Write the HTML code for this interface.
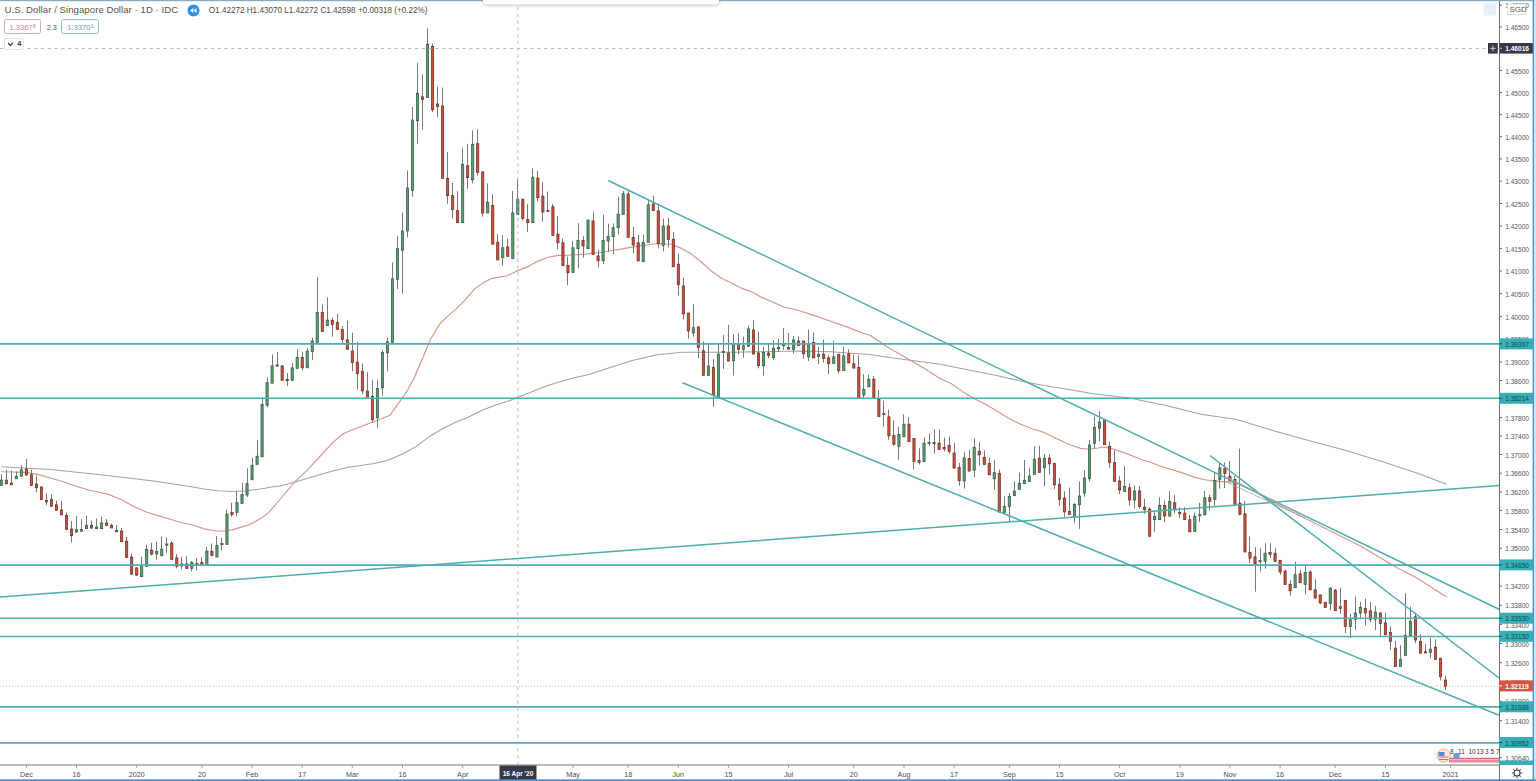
<!DOCTYPE html>
<html><head><meta charset="utf-8"><style>
html,body{margin:0;padding:0;background:#fff;width:1536px;height:781px;overflow:hidden}
svg.main{position:absolute;left:0;top:0;display:block}
.pl{font-family:"Liberation Sans",sans-serif;font-size:6.6px;fill:#555}
.tlb{font-family:"Liberation Sans",sans-serif;font-size:7.2px;fill:#4c4c4c}
.ev{font-family:"Liberation Sans",sans-serif;font-size:6.5px;fill:#333}
.title{position:absolute;left:4.5px;top:3.5px;font:9.6px "Liberation Sans",sans-serif;color:#555;white-space:nowrap;letter-spacing:0.05px}
.rw{position:absolute;left:187px;top:3.5px;width:13px;height:13px}
.rw svg{display:block}
.ohlc{position:absolute;left:208.8px;top:6.1px;font:8.13px "Liberation Sans",sans-serif;color:#4a4a4a;white-space:nowrap}
.bx{position:absolute;box-sizing:border-box;background:#fff;height:15.2px;border-radius:2.5px;font:7.6px "Liberation Sans",sans-serif;line-height:13.6px;text-align:center;white-space:nowrap}
.sp{font-size:5.2px;vertical-align:2.2px;margin-left:0.3px}
.b1{left:4.1px;top:19.2px;width:37.3px;border:1px solid #dcaaaa;color:#d7808c}
.b2{left:61.3px;top:19.2px;width:38.2px;border:1px solid #96b9c4;color:#5d9cc4}
.n23{position:absolute;left:46.7px;top:22.8px;font:7.4px "Liberation Sans",sans-serif;color:#555}
.b3{left:4.4px;top:38.3px;width:19.6px;height:12.2px;line-height:10.5px;border:1px solid #e2e2e2;color:#333;font-size:7.4px;font-weight:bold}
.b3 svg{vertical-align:middle;margin-right:1px}
</style></head><body>
<svg class="main" width="1536" height="781" viewBox="0 0 1536 781">
<rect width="1536" height="781" fill="#fff"/>
<polyline points="1.3,466.8 51.2,469.4 102.4,475.0 153.6,481.1 190.0,486.6 204.1,489.0 218.2,490.8 232.3,491.4 246.3,490.8 260.4,489.0 274.5,486.5 280.0,486.0 295.2,482.0 306.9,478.4 320.3,474.4 333.8,470.8 347.2,467.6 360.6,465.4 374.1,463.6 387.5,460.5 403.0,453.8 416.0,446.6 429.0,436.8 442.1,429.0 455.1,422.5 468.1,417.3 481.1,410.8 494.2,405.6 507.2,401.4 520.2,396.5 533.2,391.3 546.3,386.0 559.3,381.9 572.3,378.2 590.0,374.3 605.6,369.0 631.2,360.8 656.8,354.7 682.5,352.3 708.0,352.2 733.7,352.2 770.0,351.5 800.7,351.0 831.4,351.8 846.8,353.0 870.0,354.5 887.4,357.2 938.6,364.0 968.8,370.0 997.6,375.8 1020.7,381.0 1043.7,385.6 1060.0,387.9 1093.4,393.8 1129.3,398.1 1165.1,405.3 1201.0,414.3 1236.8,419.6 1272.7,430.4 1308.6,440.4 1344.4,450.1 1380.3,460.9 1416.1,472.7 1446.6,484.2" fill="none" stroke="#a5a1a1" stroke-width="1.05" stroke-linejoin="round"/>
<polyline points="1.3,471.8 12.8,472.0 25.6,472.4 38.4,474.6 51.2,478.2 64.0,482.0 76.8,486.5 89.6,490.3 95.0,491.5 107.8,494.1 120.6,499.2 133.4,506.2 146.2,512.0 159.0,515.9 171.8,519.7 184.6,523.5 190.0,524.2 204.1,528.9 218.2,531.3 225.2,530.8 232.3,529.9 246.3,525.6 253.4,522.8 260.4,518.6 267.5,513.7 274.5,505.9 281.5,497.5 294.3,482.4 306.9,470.3 320.3,456.0 333.8,441.6 342.7,434.0 351.7,430.0 365.0,425.0 378.9,419.7 390.0,415.3 406.9,391.3 413.4,379.5 421.9,360.0 430.2,340.0 439.2,324.5 445.6,318.1 455.8,309.1 464.8,300.2 475.0,288.6 484.0,282.2 491.7,278.4 499.4,277.1 507.0,275.8 516.0,271.4 527.5,266.9 537.8,261.1 548.0,257.3 558.2,255.4 567.2,255.2 576.0,254.7 584.8,254.1 593.8,253.2 602.7,252.3 611.7,250.5 620.0,249.4 630.2,247.4 640.5,245.7 650.7,244.3 661.0,243.7 671.2,244.3 681.5,248.4 690.7,253.6 701.0,261.8 711.2,271.0 721.5,278.2 731.7,283.3 742.0,288.4 752.2,292.0 760.0,296.6 785.0,307.5 797.6,310.0 816.1,316.1 831.4,321.5 846.8,326.9 862.2,333.0 870.0,335.3 887.4,347.0 909.9,360.0 926.8,370.0 940.0,378.6 951.5,383.8 963.0,391.9 974.6,398.8 986.1,404.6 997.6,411.5 1009.2,418.4 1020.7,424.2 1032.2,428.8 1043.7,432.2 1056.1,438.4 1071.4,445.3 1080.7,448.4 1089.0,449.3 1097.9,448.0 1103.3,447.0 1112.3,448.7 1124.8,452.9 1133.8,456.5 1142.7,460.0 1151.7,462.7 1160.6,466.3 1169.6,469.0 1177.9,471.4 1195.8,477.6 1204.8,479.8 1213.8,480.9 1222.7,481.6 1236.8,482.6 1254.8,491.3 1272.7,502.1 1290.6,511.1 1308.6,520.0 1326.5,529.0 1344.4,538.0 1362.3,546.9 1380.3,557.7 1398.2,568.4 1416.1,577.4 1446.6,597.1" fill="none" stroke="#d6968a" stroke-width="1.15" stroke-linejoin="round"/>
<line x1="1.50" y1="474.3" x2="1.50" y2="485.6" stroke="#78787b" stroke-width="1"/>
<line x1="6.50" y1="469.8" x2="6.50" y2="483.9" stroke="#78787b" stroke-width="1"/>
<line x1="11.50" y1="470.5" x2="11.50" y2="484.8" stroke="#78787b" stroke-width="1"/>
<line x1="16.50" y1="471.5" x2="16.50" y2="478.8" stroke="#78787b" stroke-width="1"/>
<line x1="21.50" y1="465.1" x2="21.50" y2="476.2" stroke="#78787b" stroke-width="1"/>
<line x1="26.50" y1="459.0" x2="26.50" y2="475.6" stroke="#78787b" stroke-width="1"/>
<line x1="31.50" y1="469.8" x2="31.50" y2="485.6" stroke="#78787b" stroke-width="1"/>
<line x1="36.50" y1="475.6" x2="36.50" y2="492.3" stroke="#78787b" stroke-width="1"/>
<line x1="41.50" y1="486.5" x2="41.50" y2="499.7" stroke="#78787b" stroke-width="1"/>
<line x1="46.50" y1="493.5" x2="46.50" y2="505.0" stroke="#78787b" stroke-width="1"/>
<line x1="51.50" y1="494.2" x2="51.50" y2="506.3" stroke="#78787b" stroke-width="1"/>
<line x1="56.50" y1="500.6" x2="56.50" y2="510.4" stroke="#78787b" stroke-width="1"/>
<line x1="61.50" y1="501.0" x2="61.50" y2="514.9" stroke="#78787b" stroke-width="1"/>
<line x1="66.50" y1="512.5" x2="66.50" y2="529.6" stroke="#78787b" stroke-width="1"/>
<line x1="71.50" y1="521.0" x2="71.50" y2="542.4" stroke="#78787b" stroke-width="1"/>
<line x1="76.50" y1="516.0" x2="76.50" y2="533.0" stroke="#78787b" stroke-width="1"/>
<line x1="81.50" y1="519.0" x2="81.50" y2="531.3" stroke="#78787b" stroke-width="1"/>
<line x1="86.50" y1="515.6" x2="86.50" y2="528.7" stroke="#78787b" stroke-width="1"/>
<line x1="91.50" y1="520.4" x2="91.50" y2="528.1" stroke="#78787b" stroke-width="1"/>
<line x1="96.50" y1="518.5" x2="96.50" y2="528.7" stroke="#78787b" stroke-width="1"/>
<line x1="101.50" y1="516.5" x2="101.50" y2="528.7" stroke="#78787b" stroke-width="1"/>
<line x1="106.50" y1="519.0" x2="106.50" y2="525.5" stroke="#78787b" stroke-width="1"/>
<line x1="111.50" y1="523.5" x2="111.50" y2="528.0" stroke="#78787b" stroke-width="1"/>
<line x1="116.50" y1="524.8" x2="116.50" y2="531.5" stroke="#78787b" stroke-width="1"/>
<line x1="121.50" y1="528.0" x2="121.50" y2="541.7" stroke="#78787b" stroke-width="1"/>
<line x1="126.50" y1="537.0" x2="126.50" y2="557.5" stroke="#78787b" stroke-width="1"/>
<line x1="131.50" y1="553.6" x2="131.50" y2="574.8" stroke="#78787b" stroke-width="1"/>
<line x1="136.50" y1="567.0" x2="136.50" y2="576.0" stroke="#78787b" stroke-width="1"/>
<line x1="141.50" y1="556.6" x2="141.50" y2="576.7" stroke="#78787b" stroke-width="1"/>
<line x1="146.50" y1="544.7" x2="146.50" y2="566.4" stroke="#78787b" stroke-width="1"/>
<line x1="151.50" y1="542.7" x2="151.50" y2="555.5" stroke="#78787b" stroke-width="1"/>
<line x1="156.50" y1="541.7" x2="156.50" y2="559.4" stroke="#78787b" stroke-width="1"/>
<line x1="161.50" y1="536.3" x2="161.50" y2="555.8" stroke="#78787b" stroke-width="1"/>
<line x1="166.50" y1="537.4" x2="166.50" y2="553.0" stroke="#78787b" stroke-width="1"/>
<line x1="171.50" y1="541.2" x2="171.50" y2="559.6" stroke="#78787b" stroke-width="1"/>
<line x1="176.50" y1="554.0" x2="176.50" y2="568.3" stroke="#78787b" stroke-width="1"/>
<line x1="181.50" y1="556.6" x2="181.50" y2="569.4" stroke="#78787b" stroke-width="1"/>
<line x1="186.50" y1="556.2" x2="186.50" y2="568.6" stroke="#78787b" stroke-width="1"/>
<line x1="191.50" y1="561.3" x2="191.50" y2="571.4" stroke="#78787b" stroke-width="1"/>
<line x1="196.50" y1="558.0" x2="196.50" y2="570.7" stroke="#78787b" stroke-width="1"/>
<line x1="201.50" y1="557.3" x2="201.50" y2="565.5" stroke="#78787b" stroke-width="1"/>
<line x1="206.50" y1="546.8" x2="206.50" y2="565.5" stroke="#78787b" stroke-width="1"/>
<line x1="211.50" y1="543.5" x2="211.50" y2="555.6" stroke="#78787b" stroke-width="1"/>
<line x1="216.50" y1="536.2" x2="216.50" y2="557.0" stroke="#78787b" stroke-width="1"/>
<line x1="221.50" y1="537.9" x2="221.50" y2="550.6" stroke="#78787b" stroke-width="1"/>
<line x1="226.50" y1="509.7" x2="226.50" y2="544.4" stroke="#78787b" stroke-width="1"/>
<line x1="231.50" y1="502.7" x2="231.50" y2="516.5" stroke="#78787b" stroke-width="1"/>
<line x1="236.50" y1="491.0" x2="236.50" y2="516.5" stroke="#78787b" stroke-width="1"/>
<line x1="242.50" y1="482.7" x2="242.50" y2="503.5" stroke="#78787b" stroke-width="1"/>
<line x1="247.50" y1="468.3" x2="247.50" y2="497.0" stroke="#78787b" stroke-width="1"/>
<line x1="252.50" y1="457.5" x2="252.50" y2="479.8" stroke="#78787b" stroke-width="1"/>
<line x1="257.50" y1="440.2" x2="257.50" y2="464.4" stroke="#78787b" stroke-width="1"/>
<line x1="262.50" y1="397.6" x2="262.50" y2="456.8" stroke="#78787b" stroke-width="1"/>
<line x1="267.50" y1="377.4" x2="267.50" y2="407.2" stroke="#78787b" stroke-width="1"/>
<line x1="272.50" y1="354.4" x2="272.50" y2="383.2" stroke="#78787b" stroke-width="1"/>
<line x1="277.50" y1="351.9" x2="277.50" y2="366.9" stroke="#78787b" stroke-width="1"/>
<line x1="282.50" y1="365.0" x2="282.50" y2="380.3" stroke="#78787b" stroke-width="1"/>
<line x1="287.50" y1="373.0" x2="287.50" y2="386.1" stroke="#78787b" stroke-width="1"/>
<line x1="292.50" y1="362.7" x2="292.50" y2="380.3" stroke="#78787b" stroke-width="1"/>
<line x1="297.50" y1="349.2" x2="297.50" y2="368.4" stroke="#78787b" stroke-width="1"/>
<line x1="302.50" y1="351.9" x2="302.50" y2="370.3" stroke="#78787b" stroke-width="1"/>
<line x1="307.50" y1="348.0" x2="307.50" y2="367.8" stroke="#78787b" stroke-width="1"/>
<line x1="312.50" y1="337.6" x2="312.50" y2="360.2" stroke="#78787b" stroke-width="1"/>
<line x1="317.50" y1="277.0" x2="317.50" y2="342.4" stroke="#78787b" stroke-width="1"/>
<line x1="322.50" y1="304.6" x2="322.50" y2="331.5" stroke="#78787b" stroke-width="1"/>
<line x1="327.50" y1="297.3" x2="327.50" y2="325.7" stroke="#78787b" stroke-width="1"/>
<line x1="332.50" y1="317.5" x2="332.50" y2="336.7" stroke="#78787b" stroke-width="1"/>
<line x1="337.50" y1="313.6" x2="337.50" y2="329.5" stroke="#78787b" stroke-width="1"/>
<line x1="342.50" y1="326.0" x2="342.50" y2="344.3" stroke="#78787b" stroke-width="1"/>
<line x1="347.50" y1="320.7" x2="347.50" y2="349.5" stroke="#78787b" stroke-width="1"/>
<line x1="352.50" y1="332.8" x2="352.50" y2="371.2" stroke="#78787b" stroke-width="1"/>
<line x1="357.50" y1="341.8" x2="357.50" y2="389.5" stroke="#78787b" stroke-width="1"/>
<line x1="362.50" y1="363.5" x2="362.50" y2="394.3" stroke="#78787b" stroke-width="1"/>
<line x1="367.50" y1="372.2" x2="367.50" y2="397.2" stroke="#78787b" stroke-width="1"/>
<line x1="372.50" y1="379.9" x2="372.50" y2="423.0" stroke="#78787b" stroke-width="1"/>
<line x1="377.50" y1="379.9" x2="377.50" y2="427.9" stroke="#78787b" stroke-width="1"/>
<line x1="382.50" y1="350.0" x2="382.50" y2="395.2" stroke="#78787b" stroke-width="1"/>
<line x1="387.50" y1="337.6" x2="387.50" y2="371.2" stroke="#78787b" stroke-width="1"/>
<line x1="392.50" y1="262.5" x2="392.50" y2="342.4" stroke="#78787b" stroke-width="1"/>
<line x1="397.50" y1="236.0" x2="397.50" y2="289.0" stroke="#78787b" stroke-width="1"/>
<line x1="402.50" y1="212.5" x2="402.50" y2="293.6" stroke="#78787b" stroke-width="1"/>
<line x1="407.50" y1="170.4" x2="407.50" y2="237.2" stroke="#78787b" stroke-width="1"/>
<line x1="412.50" y1="107.0" x2="412.50" y2="196.9" stroke="#78787b" stroke-width="1"/>
<line x1="417.50" y1="63.0" x2="417.50" y2="144.0" stroke="#78787b" stroke-width="1"/>
<line x1="422.50" y1="74.3" x2="422.50" y2="129.6" stroke="#78787b" stroke-width="1"/>
<line x1="427.50" y1="28.6" x2="427.50" y2="97.5" stroke="#78787b" stroke-width="1"/>
<line x1="432.50" y1="43.6" x2="432.50" y2="112.2" stroke="#78787b" stroke-width="1"/>
<line x1="437.50" y1="86.6" x2="437.50" y2="117.3" stroke="#78787b" stroke-width="1"/>
<line x1="442.50" y1="87.6" x2="442.50" y2="178.3" stroke="#78787b" stroke-width="1"/>
<line x1="447.50" y1="152.2" x2="447.50" y2="203.8" stroke="#78787b" stroke-width="1"/>
<line x1="452.50" y1="183.0" x2="452.50" y2="218.8" stroke="#78787b" stroke-width="1"/>
<line x1="457.50" y1="191.1" x2="457.50" y2="222.7" stroke="#78787b" stroke-width="1"/>
<line x1="462.50" y1="147.9" x2="462.50" y2="222.7" stroke="#78787b" stroke-width="1"/>
<line x1="467.50" y1="143.8" x2="467.50" y2="188.9" stroke="#78787b" stroke-width="1"/>
<line x1="472.50" y1="130.5" x2="472.50" y2="183.4" stroke="#78787b" stroke-width="1"/>
<line x1="477.50" y1="129.5" x2="477.50" y2="175.6" stroke="#78787b" stroke-width="1"/>
<line x1="482.50" y1="171.9" x2="482.50" y2="216.6" stroke="#78787b" stroke-width="1"/>
<line x1="487.50" y1="183.4" x2="487.50" y2="212.9" stroke="#78787b" stroke-width="1"/>
<line x1="492.50" y1="194.4" x2="492.50" y2="244.2" stroke="#78787b" stroke-width="1"/>
<line x1="497.50" y1="234.0" x2="497.50" y2="260.0" stroke="#78787b" stroke-width="1"/>
<line x1="502.50" y1="235.4" x2="502.50" y2="265.7" stroke="#78787b" stroke-width="1"/>
<line x1="507.50" y1="238.7" x2="507.50" y2="256.5" stroke="#78787b" stroke-width="1"/>
<line x1="512.50" y1="191.0" x2="512.50" y2="258.6" stroke="#78787b" stroke-width="1"/>
<line x1="517.50" y1="179.7" x2="517.50" y2="214.5" stroke="#78787b" stroke-width="1"/>
<line x1="522.50" y1="199.1" x2="522.50" y2="220.7" stroke="#78787b" stroke-width="1"/>
<line x1="527.50" y1="204.3" x2="527.50" y2="231.9" stroke="#78787b" stroke-width="1"/>
<line x1="532.50" y1="168.4" x2="532.50" y2="222.7" stroke="#78787b" stroke-width="1"/>
<line x1="537.50" y1="171.0" x2="537.50" y2="201.2" stroke="#78787b" stroke-width="1"/>
<line x1="542.50" y1="182.1" x2="542.50" y2="221.7" stroke="#78787b" stroke-width="1"/>
<line x1="547.50" y1="191.6" x2="547.50" y2="211.6" stroke="#78787b" stroke-width="1"/>
<line x1="552.50" y1="203.9" x2="552.50" y2="235.5" stroke="#78787b" stroke-width="1"/>
<line x1="557.50" y1="216.0" x2="557.50" y2="249.3" stroke="#78787b" stroke-width="1"/>
<line x1="562.50" y1="238.5" x2="562.50" y2="265.7" stroke="#78787b" stroke-width="1"/>
<line x1="567.50" y1="256.8" x2="567.50" y2="285.1" stroke="#78787b" stroke-width="1"/>
<line x1="572.50" y1="241.0" x2="572.50" y2="272.5" stroke="#78787b" stroke-width="1"/>
<line x1="578.50" y1="223.1" x2="578.50" y2="268.4" stroke="#78787b" stroke-width="1"/>
<line x1="583.50" y1="236.2" x2="583.50" y2="257.7" stroke="#78787b" stroke-width="1"/>
<line x1="588.50" y1="220.0" x2="588.50" y2="248.7" stroke="#78787b" stroke-width="1"/>
<line x1="593.50" y1="212.0" x2="593.50" y2="254.6" stroke="#78787b" stroke-width="1"/>
<line x1="598.50" y1="249.6" x2="598.50" y2="267.2" stroke="#78787b" stroke-width="1"/>
<line x1="603.50" y1="214.7" x2="603.50" y2="264.0" stroke="#78787b" stroke-width="1"/>
<line x1="608.50" y1="223.6" x2="608.50" y2="252.3" stroke="#78787b" stroke-width="1"/>
<line x1="613.50" y1="223.6" x2="613.50" y2="254.1" stroke="#78787b" stroke-width="1"/>
<line x1="618.50" y1="196.7" x2="618.50" y2="234.4" stroke="#78787b" stroke-width="1"/>
<line x1="623.50" y1="190.8" x2="623.50" y2="214.5" stroke="#78787b" stroke-width="1"/>
<line x1="628.50" y1="190.8" x2="628.50" y2="237.3" stroke="#78787b" stroke-width="1"/>
<line x1="633.50" y1="226.8" x2="633.50" y2="253.3" stroke="#78787b" stroke-width="1"/>
<line x1="638.50" y1="234.8" x2="638.50" y2="261.0" stroke="#78787b" stroke-width="1"/>
<line x1="643.50" y1="234.7" x2="643.50" y2="261.7" stroke="#78787b" stroke-width="1"/>
<line x1="648.50" y1="200.2" x2="648.50" y2="242.3" stroke="#78787b" stroke-width="1"/>
<line x1="653.50" y1="195.7" x2="653.50" y2="210.5" stroke="#78787b" stroke-width="1"/>
<line x1="658.50" y1="203.9" x2="658.50" y2="248.4" stroke="#78787b" stroke-width="1"/>
<line x1="663.50" y1="218.7" x2="663.50" y2="251.5" stroke="#78787b" stroke-width="1"/>
<line x1="668.50" y1="217.7" x2="668.50" y2="247.4" stroke="#78787b" stroke-width="1"/>
<line x1="673.50" y1="232.0" x2="673.50" y2="266.8" stroke="#78787b" stroke-width="1"/>
<line x1="678.50" y1="253.5" x2="678.50" y2="295.5" stroke="#78787b" stroke-width="1"/>
<line x1="683.50" y1="277.7" x2="683.50" y2="319.5" stroke="#78787b" stroke-width="1"/>
<line x1="688.50" y1="313.0" x2="688.50" y2="338.6" stroke="#78787b" stroke-width="1"/>
<line x1="693.50" y1="304.3" x2="693.50" y2="336.7" stroke="#78787b" stroke-width="1"/>
<line x1="698.50" y1="326.9" x2="698.50" y2="358.4" stroke="#78787b" stroke-width="1"/>
<line x1="703.50" y1="341.2" x2="703.50" y2="375.6" stroke="#78787b" stroke-width="1"/>
<line x1="708.50" y1="343.8" x2="708.50" y2="375.6" stroke="#78787b" stroke-width="1"/>
<line x1="713.50" y1="359.1" x2="713.50" y2="406.8" stroke="#78787b" stroke-width="1"/>
<line x1="718.50" y1="343.8" x2="718.50" y2="399.0" stroke="#78787b" stroke-width="1"/>
<line x1="723.50" y1="335.0" x2="723.50" y2="369.1" stroke="#78787b" stroke-width="1"/>
<line x1="728.50" y1="324.9" x2="728.50" y2="361.1" stroke="#78787b" stroke-width="1"/>
<line x1="733.50" y1="334.1" x2="733.50" y2="375.6" stroke="#78787b" stroke-width="1"/>
<line x1="738.50" y1="333.0" x2="738.50" y2="354.5" stroke="#78787b" stroke-width="1"/>
<line x1="743.50" y1="336.6" x2="743.50" y2="357.6" stroke="#78787b" stroke-width="1"/>
<line x1="748.50" y1="325.3" x2="748.50" y2="346.4" stroke="#78787b" stroke-width="1"/>
<line x1="753.50" y1="320.0" x2="753.50" y2="354.1" stroke="#78787b" stroke-width="1"/>
<line x1="758.50" y1="332.0" x2="758.50" y2="368.4" stroke="#78787b" stroke-width="1"/>
<line x1="763.50" y1="346.9" x2="763.50" y2="375.6" stroke="#78787b" stroke-width="1"/>
<line x1="768.50" y1="343.8" x2="768.50" y2="358.1" stroke="#78787b" stroke-width="1"/>
<line x1="773.50" y1="340.2" x2="773.50" y2="360.2" stroke="#78787b" stroke-width="1"/>
<line x1="778.50" y1="338.9" x2="778.50" y2="352.0" stroke="#78787b" stroke-width="1"/>
<line x1="783.50" y1="328.0" x2="783.50" y2="350.0" stroke="#78787b" stroke-width="1"/>
<line x1="788.50" y1="333.0" x2="788.50" y2="349.2" stroke="#78787b" stroke-width="1"/>
<line x1="793.50" y1="336.1" x2="793.50" y2="353.3" stroke="#78787b" stroke-width="1"/>
<line x1="798.50" y1="336.4" x2="798.50" y2="345.6" stroke="#78787b" stroke-width="1"/>
<line x1="803.50" y1="341.0" x2="803.50" y2="358.8" stroke="#78787b" stroke-width="1"/>
<line x1="808.50" y1="329.7" x2="808.50" y2="361.0" stroke="#78787b" stroke-width="1"/>
<line x1="813.50" y1="332.3" x2="813.50" y2="357.9" stroke="#78787b" stroke-width="1"/>
<line x1="818.50" y1="346.9" x2="818.50" y2="364.1" stroke="#78787b" stroke-width="1"/>
<line x1="823.50" y1="339.5" x2="823.50" y2="362.5" stroke="#78787b" stroke-width="1"/>
<line x1="828.50" y1="355.3" x2="828.50" y2="374.2" stroke="#78787b" stroke-width="1"/>
<line x1="833.50" y1="340.7" x2="833.50" y2="363.5" stroke="#78787b" stroke-width="1"/>
<line x1="838.50" y1="354.2" x2="838.50" y2="373.3" stroke="#78787b" stroke-width="1"/>
<line x1="843.50" y1="346.6" x2="843.50" y2="370.7" stroke="#78787b" stroke-width="1"/>
<line x1="848.50" y1="349.2" x2="848.50" y2="363.0" stroke="#78787b" stroke-width="1"/>
<line x1="853.50" y1="354.5" x2="853.50" y2="368.1" stroke="#78787b" stroke-width="1"/>
<line x1="858.50" y1="355.3" x2="858.50" y2="398.3" stroke="#78787b" stroke-width="1"/>
<line x1="863.50" y1="374.1" x2="863.50" y2="398.8" stroke="#78787b" stroke-width="1"/>
<line x1="868.50" y1="374.6" x2="868.50" y2="386.9" stroke="#78787b" stroke-width="1"/>
<line x1="873.50" y1="376.1" x2="873.50" y2="398.4" stroke="#78787b" stroke-width="1"/>
<line x1="878.50" y1="390.0" x2="878.50" y2="416.5" stroke="#78787b" stroke-width="1"/>
<line x1="883.50" y1="400.7" x2="883.50" y2="426.8" stroke="#78787b" stroke-width="1"/>
<line x1="888.50" y1="409.5" x2="888.50" y2="439.9" stroke="#78787b" stroke-width="1"/>
<line x1="893.50" y1="420.2" x2="893.50" y2="445.7" stroke="#78787b" stroke-width="1"/>
<line x1="898.50" y1="426.8" x2="898.50" y2="459.8" stroke="#78787b" stroke-width="1"/>
<line x1="903.50" y1="414.5" x2="903.50" y2="436.8" stroke="#78787b" stroke-width="1"/>
<line x1="908.50" y1="417.1" x2="908.50" y2="441.7" stroke="#78787b" stroke-width="1"/>
<line x1="913.50" y1="438.6" x2="913.50" y2="469.4" stroke="#78787b" stroke-width="1"/>
<line x1="919.50" y1="448.3" x2="919.50" y2="464.5" stroke="#78787b" stroke-width="1"/>
<line x1="924.50" y1="437.1" x2="924.50" y2="461.7" stroke="#78787b" stroke-width="1"/>
<line x1="929.50" y1="433.4" x2="929.50" y2="446.0" stroke="#78787b" stroke-width="1"/>
<line x1="934.50" y1="429.4" x2="934.50" y2="453.7" stroke="#78787b" stroke-width="1"/>
<line x1="939.50" y1="429.4" x2="939.50" y2="449.5" stroke="#78787b" stroke-width="1"/>
<line x1="944.50" y1="437.6" x2="944.50" y2="451.4" stroke="#78787b" stroke-width="1"/>
<line x1="949.50" y1="436.8" x2="949.50" y2="453.7" stroke="#78787b" stroke-width="1"/>
<line x1="954.50" y1="442.6" x2="954.50" y2="468.1" stroke="#78787b" stroke-width="1"/>
<line x1="959.50" y1="463.0" x2="959.50" y2="485.6" stroke="#78787b" stroke-width="1"/>
<line x1="964.50" y1="451.8" x2="964.50" y2="488.6" stroke="#78787b" stroke-width="1"/>
<line x1="969.50" y1="449.6" x2="969.50" y2="471.1" stroke="#78787b" stroke-width="1"/>
<line x1="974.50" y1="438.4" x2="974.50" y2="477.3" stroke="#78787b" stroke-width="1"/>
<line x1="979.50" y1="442.0" x2="979.50" y2="465.6" stroke="#78787b" stroke-width="1"/>
<line x1="984.50" y1="450.2" x2="984.50" y2="464.5" stroke="#78787b" stroke-width="1"/>
<line x1="989.50" y1="457.6" x2="989.50" y2="474.8" stroke="#78787b" stroke-width="1"/>
<line x1="994.50" y1="459.9" x2="994.50" y2="489.9" stroke="#78787b" stroke-width="1"/>
<line x1="999.50" y1="469.6" x2="999.50" y2="512.1" stroke="#78787b" stroke-width="1"/>
<line x1="1004.50" y1="496.3" x2="1004.50" y2="512.6" stroke="#78787b" stroke-width="1"/>
<line x1="1009.50" y1="492.9" x2="1009.50" y2="521.8" stroke="#78787b" stroke-width="1"/>
<line x1="1014.50" y1="481.4" x2="1014.50" y2="495.7" stroke="#78787b" stroke-width="1"/>
<line x1="1019.50" y1="472.6" x2="1019.50" y2="489.5" stroke="#78787b" stroke-width="1"/>
<line x1="1024.50" y1="460.0" x2="1024.50" y2="483.7" stroke="#78787b" stroke-width="1"/>
<line x1="1029.50" y1="468.2" x2="1029.50" y2="481.6" stroke="#78787b" stroke-width="1"/>
<line x1="1034.50" y1="446.4" x2="1034.50" y2="474.5" stroke="#78787b" stroke-width="1"/>
<line x1="1039.50" y1="445.8" x2="1039.50" y2="472.5" stroke="#78787b" stroke-width="1"/>
<line x1="1044.50" y1="454.1" x2="1044.50" y2="486.4" stroke="#78787b" stroke-width="1"/>
<line x1="1049.50" y1="454.1" x2="1049.50" y2="474.5" stroke="#78787b" stroke-width="1"/>
<line x1="1054.50" y1="463.3" x2="1054.50" y2="489.1" stroke="#78787b" stroke-width="1"/>
<line x1="1059.50" y1="478.1" x2="1059.50" y2="506.0" stroke="#78787b" stroke-width="1"/>
<line x1="1064.50" y1="491.4" x2="1064.50" y2="517.5" stroke="#78787b" stroke-width="1"/>
<line x1="1069.50" y1="487.6" x2="1069.50" y2="514.5" stroke="#78787b" stroke-width="1"/>
<line x1="1074.50" y1="503.0" x2="1074.50" y2="523.2" stroke="#78787b" stroke-width="1"/>
<line x1="1079.50" y1="481.4" x2="1079.50" y2="528.8" stroke="#78787b" stroke-width="1"/>
<line x1="1084.50" y1="470.4" x2="1084.50" y2="496.8" stroke="#78787b" stroke-width="1"/>
<line x1="1089.50" y1="440.0" x2="1089.50" y2="481.4" stroke="#78787b" stroke-width="1"/>
<line x1="1094.50" y1="416.5" x2="1094.50" y2="448.4" stroke="#78787b" stroke-width="1"/>
<line x1="1099.50" y1="411.1" x2="1099.50" y2="441.2" stroke="#78787b" stroke-width="1"/>
<line x1="1104.50" y1="418.8" x2="1104.50" y2="444.7" stroke="#78787b" stroke-width="1"/>
<line x1="1109.50" y1="441.6" x2="1109.50" y2="467.7" stroke="#78787b" stroke-width="1"/>
<line x1="1114.50" y1="450.2" x2="1114.50" y2="481.5" stroke="#78787b" stroke-width="1"/>
<line x1="1119.50" y1="476.2" x2="1119.50" y2="494.1" stroke="#78787b" stroke-width="1"/>
<line x1="1124.50" y1="466.0" x2="1124.50" y2="491.4" stroke="#78787b" stroke-width="1"/>
<line x1="1129.50" y1="483.3" x2="1129.50" y2="505.7" stroke="#78787b" stroke-width="1"/>
<line x1="1134.50" y1="485.7" x2="1134.50" y2="508.4" stroke="#78787b" stroke-width="1"/>
<line x1="1139.50" y1="486.0" x2="1139.50" y2="508.4" stroke="#78787b" stroke-width="1"/>
<line x1="1144.50" y1="498.9" x2="1144.50" y2="513.8" stroke="#78787b" stroke-width="1"/>
<line x1="1149.50" y1="507.5" x2="1149.50" y2="537.1" stroke="#78787b" stroke-width="1"/>
<line x1="1154.50" y1="510.8" x2="1154.50" y2="531.7" stroke="#78787b" stroke-width="1"/>
<line x1="1159.50" y1="497.1" x2="1159.50" y2="519.7" stroke="#78787b" stroke-width="1"/>
<line x1="1164.50" y1="500.4" x2="1164.50" y2="522.2" stroke="#78787b" stroke-width="1"/>
<line x1="1169.50" y1="490.8" x2="1169.50" y2="516.2" stroke="#78787b" stroke-width="1"/>
<line x1="1174.50" y1="494.8" x2="1174.50" y2="513.1" stroke="#78787b" stroke-width="1"/>
<line x1="1179.50" y1="507.2" x2="1179.50" y2="518.0" stroke="#78787b" stroke-width="1"/>
<line x1="1184.50" y1="507.2" x2="1184.50" y2="519.7" stroke="#78787b" stroke-width="1"/>
<line x1="1189.50" y1="514.9" x2="1189.50" y2="531.8" stroke="#78787b" stroke-width="1"/>
<line x1="1194.50" y1="512.6" x2="1194.50" y2="531.4" stroke="#78787b" stroke-width="1"/>
<line x1="1199.50" y1="502.7" x2="1199.50" y2="522.1" stroke="#78787b" stroke-width="1"/>
<line x1="1204.50" y1="491.0" x2="1204.50" y2="514.9" stroke="#78787b" stroke-width="1"/>
<line x1="1209.50" y1="494.7" x2="1209.50" y2="510.3" stroke="#78787b" stroke-width="1"/>
<line x1="1214.50" y1="471.9" x2="1214.50" y2="506.0" stroke="#78787b" stroke-width="1"/>
<line x1="1219.50" y1="462.4" x2="1219.50" y2="488.7" stroke="#78787b" stroke-width="1"/>
<line x1="1224.50" y1="462.4" x2="1224.50" y2="488.0" stroke="#78787b" stroke-width="1"/>
<line x1="1229.50" y1="461.1" x2="1229.50" y2="480.9" stroke="#78787b" stroke-width="1"/>
<line x1="1234.50" y1="476.0" x2="1234.50" y2="504.5" stroke="#78787b" stroke-width="1"/>
<line x1="1239.50" y1="448.6" x2="1239.50" y2="515.3" stroke="#78787b" stroke-width="1"/>
<line x1="1244.50" y1="501.0" x2="1244.50" y2="552.0" stroke="#78787b" stroke-width="1"/>
<line x1="1249.50" y1="536.5" x2="1249.50" y2="563.0" stroke="#78787b" stroke-width="1"/>
<line x1="1255.50" y1="547.2" x2="1255.50" y2="591.7" stroke="#78787b" stroke-width="1"/>
<line x1="1260.50" y1="548.3" x2="1260.50" y2="571.6" stroke="#78787b" stroke-width="1"/>
<line x1="1265.50" y1="543.3" x2="1265.50" y2="568.7" stroke="#78787b" stroke-width="1"/>
<line x1="1270.50" y1="543.3" x2="1270.50" y2="558.0" stroke="#78787b" stroke-width="1"/>
<line x1="1275.50" y1="547.8" x2="1275.50" y2="561.6" stroke="#78787b" stroke-width="1"/>
<line x1="1280.50" y1="560.3" x2="1280.50" y2="574.7" stroke="#78787b" stroke-width="1"/>
<line x1="1285.50" y1="569.3" x2="1285.50" y2="584.5" stroke="#78787b" stroke-width="1"/>
<line x1="1290.50" y1="580.0" x2="1290.50" y2="595.6" stroke="#78787b" stroke-width="1"/>
<line x1="1295.50" y1="561.6" x2="1295.50" y2="587.7" stroke="#78787b" stroke-width="1"/>
<line x1="1300.50" y1="569.8" x2="1300.50" y2="582.7" stroke="#78787b" stroke-width="1"/>
<line x1="1305.50" y1="565.2" x2="1305.50" y2="594.4" stroke="#78787b" stroke-width="1"/>
<line x1="1310.50" y1="570.2" x2="1310.50" y2="589.9" stroke="#78787b" stroke-width="1"/>
<line x1="1315.50" y1="579.1" x2="1315.50" y2="598.9" stroke="#78787b" stroke-width="1"/>
<line x1="1320.50" y1="594.9" x2="1320.50" y2="604.2" stroke="#78787b" stroke-width="1"/>
<line x1="1325.50" y1="602.2" x2="1325.50" y2="607.6" stroke="#78787b" stroke-width="1"/>
<line x1="1330.50" y1="587.2" x2="1330.50" y2="610.5" stroke="#78787b" stroke-width="1"/>
<line x1="1335.50" y1="589.0" x2="1335.50" y2="610.7" stroke="#78787b" stroke-width="1"/>
<line x1="1340.50" y1="587.9" x2="1340.50" y2="613.9" stroke="#78787b" stroke-width="1"/>
<line x1="1345.50" y1="600.5" x2="1345.50" y2="633.1" stroke="#78787b" stroke-width="1"/>
<line x1="1350.50" y1="613.9" x2="1350.50" y2="638.1" stroke="#78787b" stroke-width="1"/>
<line x1="1355.50" y1="596.5" x2="1355.50" y2="630.0" stroke="#78787b" stroke-width="1"/>
<line x1="1360.50" y1="601.9" x2="1360.50" y2="619.3" stroke="#78787b" stroke-width="1"/>
<line x1="1365.50" y1="598.7" x2="1365.50" y2="625.6" stroke="#78787b" stroke-width="1"/>
<line x1="1370.50" y1="601.9" x2="1370.50" y2="622.0" stroke="#78787b" stroke-width="1"/>
<line x1="1375.50" y1="605.8" x2="1375.50" y2="630.0" stroke="#78787b" stroke-width="1"/>
<line x1="1380.50" y1="612.1" x2="1380.50" y2="636.0" stroke="#78787b" stroke-width="1"/>
<line x1="1385.50" y1="613.0" x2="1385.50" y2="634.9" stroke="#78787b" stroke-width="1"/>
<line x1="1390.50" y1="626.5" x2="1390.50" y2="650.3" stroke="#78787b" stroke-width="1"/>
<line x1="1395.50" y1="640.8" x2="1395.50" y2="666.6" stroke="#78787b" stroke-width="1"/>
<line x1="1400.50" y1="645.3" x2="1400.50" y2="666.5" stroke="#78787b" stroke-width="1"/>
<line x1="1405.50" y1="593.3" x2="1405.50" y2="655.6" stroke="#78787b" stroke-width="1"/>
<line x1="1410.50" y1="606.7" x2="1410.50" y2="635.9" stroke="#78787b" stroke-width="1"/>
<line x1="1415.50" y1="612.6" x2="1415.50" y2="643.2" stroke="#78787b" stroke-width="1"/>
<line x1="1420.50" y1="634.2" x2="1420.50" y2="653.2" stroke="#78787b" stroke-width="1"/>
<line x1="1425.50" y1="644.0" x2="1425.50" y2="652.8" stroke="#78787b" stroke-width="1"/>
<line x1="1430.50" y1="637.6" x2="1430.50" y2="658.4" stroke="#78787b" stroke-width="1"/>
<line x1="1435.50" y1="639.4" x2="1435.50" y2="659.5" stroke="#78787b" stroke-width="1"/>
<line x1="1440.50" y1="658.2" x2="1440.50" y2="680.5" stroke="#78787b" stroke-width="1"/>
<line x1="1445.50" y1="675.7" x2="1445.50" y2="690.0" stroke="#78787b" stroke-width="1"/>
<rect x="0.20" y="480.1" width="2.2" height="5.5" fill="#5f9c75" stroke="#2a573b" stroke-width="0.7"/>
<rect x="5.22" y="480.1" width="2.2" height="3.8" fill="#c9523f" stroke="#6a271d" stroke-width="0.7"/>
<rect x="10.23" y="483.0" width="2.2" height="1.8" fill="#c9523f" stroke="#6a271d" stroke-width="0.7"/>
<rect x="15.24" y="476.2" width="2.2" height="2.6" fill="#5f9c75" stroke="#2a573b" stroke-width="0.7"/>
<rect x="20.26" y="469.8" width="2.2" height="6.4" fill="#5f9c75" stroke="#2a573b" stroke-width="0.7"/>
<rect x="25.27" y="469.0" width="2.2" height="6.0" fill="#c9523f" stroke="#6a271d" stroke-width="0.7"/>
<rect x="30.29" y="474.7" width="2.2" height="10.9" fill="#c9523f" stroke="#6a271d" stroke-width="0.7"/>
<rect x="35.30" y="484.0" width="2.2" height="3.8" fill="#c9523f" stroke="#6a271d" stroke-width="0.7"/>
<rect x="40.32" y="486.9" width="2.2" height="12.8" fill="#c9523f" stroke="#6a271d" stroke-width="0.7"/>
<rect x="45.33" y="500.2" width="2.2" height="1.7" fill="#c9523f" stroke="#6a271d" stroke-width="0.7"/>
<rect x="50.35" y="499.3" width="2.2" height="7.0" fill="#c9523f" stroke="#6a271d" stroke-width="0.7"/>
<rect x="55.36" y="504.8" width="2.2" height="5.6" fill="#c9523f" stroke="#6a271d" stroke-width="0.7"/>
<rect x="60.38" y="509.9" width="2.2" height="5.0" fill="#c9523f" stroke="#6a271d" stroke-width="0.7"/>
<rect x="65.39" y="515.3" width="2.2" height="14.3" fill="#c9523f" stroke="#6a271d" stroke-width="0.7"/>
<rect x="70.41" y="529.1" width="2.2" height="6.7" fill="#c9523f" stroke="#6a271d" stroke-width="0.7"/>
<rect x="75.42" y="529.6" width="2.2" height="2.4" fill="#5f9c75" stroke="#2a573b" stroke-width="0.7"/>
<rect x="80.44" y="529.4" width="2.2" height="1.9" fill="#5f9c75" stroke="#2a573b" stroke-width="0.7"/>
<rect x="85.45" y="525.2" width="2.2" height="3.5" fill="#5f9c75" stroke="#2a573b" stroke-width="0.7"/>
<rect x="90.47" y="525.3" width="2.2" height="2.8" fill="#c9523f" stroke="#6a271d" stroke-width="0.7"/>
<rect x="95.48" y="527.1" width="2.2" height="1.6" fill="#5f9c75" stroke="#2a573b" stroke-width="0.7"/>
<rect x="100.50" y="522.9" width="2.2" height="5.8" fill="#5f9c75" stroke="#2a573b" stroke-width="0.7"/>
<rect x="105.51" y="522.9" width="2.2" height="2.6" fill="#c9523f" stroke="#6a271d" stroke-width="0.7"/>
<rect x="110.53" y="525.5" width="2.2" height="2.5" fill="#c9523f" stroke="#6a271d" stroke-width="0.7"/>
<rect x="115.54" y="530.6" width="2.2" height="1.2" fill="#5f9c75" stroke="#2a573b" stroke-width="0.7"/>
<rect x="120.56" y="531.0" width="2.2" height="10.7" fill="#c9523f" stroke="#6a271d" stroke-width="0.7"/>
<rect x="125.57" y="541.2" width="2.2" height="16.3" fill="#c9523f" stroke="#6a271d" stroke-width="0.7"/>
<rect x="130.59" y="557.1" width="2.2" height="17.0" fill="#c9523f" stroke="#6a271d" stroke-width="0.7"/>
<rect x="135.60" y="568.0" width="2.2" height="7.0" fill="#c9523f" stroke="#6a271d" stroke-width="0.7"/>
<rect x="140.61" y="565.1" width="2.2" height="11.6" fill="#5f9c75" stroke="#2a573b" stroke-width="0.7"/>
<rect x="145.63" y="549.4" width="2.2" height="17.0" fill="#5f9c75" stroke="#2a573b" stroke-width="0.7"/>
<rect x="150.64" y="550.2" width="2.2" height="3.8" fill="#c9523f" stroke="#6a271d" stroke-width="0.7"/>
<rect x="155.66" y="551.4" width="2.2" height="2.6" fill="#5f9c75" stroke="#2a573b" stroke-width="0.7"/>
<rect x="160.67" y="549.1" width="2.2" height="6.7" fill="#5f9c75" stroke="#2a573b" stroke-width="0.7"/>
<rect x="165.69" y="544.0" width="2.2" height="1.2" fill="#5f9c75" stroke="#2a573b" stroke-width="0.7"/>
<rect x="170.70" y="543.0" width="2.2" height="16.6" fill="#c9523f" stroke="#6a271d" stroke-width="0.7"/>
<rect x="175.72" y="557.8" width="2.2" height="8.6" fill="#c9523f" stroke="#6a271d" stroke-width="0.7"/>
<rect x="180.73" y="563.9" width="2.2" height="2.1" fill="#5f9c75" stroke="#2a573b" stroke-width="0.7"/>
<rect x="185.75" y="563.9" width="2.2" height="4.7" fill="#c9523f" stroke="#6a271d" stroke-width="0.7"/>
<rect x="190.76" y="562.3" width="2.2" height="6.0" fill="#5f9c75" stroke="#2a573b" stroke-width="0.7"/>
<rect x="195.78" y="563.4" width="2.2" height="1.2" fill="#5f9c75" stroke="#2a573b" stroke-width="0.7"/>
<rect x="200.79" y="562.3" width="2.2" height="3.2" fill="#c9523f" stroke="#6a271d" stroke-width="0.7"/>
<rect x="205.81" y="551.0" width="2.2" height="14.5" fill="#5f9c75" stroke="#2a573b" stroke-width="0.7"/>
<rect x="210.82" y="551.4" width="2.2" height="4.2" fill="#c9523f" stroke="#6a271d" stroke-width="0.7"/>
<rect x="215.84" y="545.4" width="2.2" height="11.6" fill="#5f9c75" stroke="#2a573b" stroke-width="0.7"/>
<rect x="220.85" y="543.5" width="2.2" height="1.2" fill="#5f9c75" stroke="#2a573b" stroke-width="0.7"/>
<rect x="225.87" y="514.0" width="2.2" height="30.4" fill="#5f9c75" stroke="#2a573b" stroke-width="0.7"/>
<rect x="230.88" y="512.3" width="2.2" height="2.5" fill="#c9523f" stroke="#6a271d" stroke-width="0.7"/>
<rect x="235.90" y="502.7" width="2.2" height="9.8" fill="#5f9c75" stroke="#2a573b" stroke-width="0.7"/>
<rect x="240.91" y="494.6" width="2.2" height="8.9" fill="#5f9c75" stroke="#2a573b" stroke-width="0.7"/>
<rect x="245.93" y="483.7" width="2.2" height="11.3" fill="#5f9c75" stroke="#2a573b" stroke-width="0.7"/>
<rect x="250.94" y="465.2" width="2.2" height="14.6" fill="#5f9c75" stroke="#2a573b" stroke-width="0.7"/>
<rect x="255.96" y="456.2" width="2.2" height="8.2" fill="#5f9c75" stroke="#2a573b" stroke-width="0.7"/>
<rect x="260.97" y="404.3" width="2.2" height="52.5" fill="#5f9c75" stroke="#2a573b" stroke-width="0.7"/>
<rect x="265.98" y="382.6" width="2.2" height="22.7" fill="#5f9c75" stroke="#2a573b" stroke-width="0.7"/>
<rect x="271.00" y="365.9" width="2.2" height="17.3" fill="#5f9c75" stroke="#2a573b" stroke-width="0.7"/>
<rect x="276.01" y="364.9" width="2.2" height="1.2" fill="#5f9c75" stroke="#2a573b" stroke-width="0.7"/>
<rect x="281.03" y="365.9" width="2.2" height="14.4" fill="#c9523f" stroke="#6a271d" stroke-width="0.7"/>
<rect x="286.04" y="379.4" width="2.2" height="1.3" fill="#c9523f" stroke="#6a271d" stroke-width="0.7"/>
<rect x="291.06" y="367.8" width="2.2" height="12.5" fill="#5f9c75" stroke="#2a573b" stroke-width="0.7"/>
<rect x="296.07" y="357.3" width="2.2" height="11.1" fill="#5f9c75" stroke="#2a573b" stroke-width="0.7"/>
<rect x="301.09" y="357.3" width="2.2" height="10.5" fill="#c9523f" stroke="#6a271d" stroke-width="0.7"/>
<rect x="306.10" y="351.1" width="2.2" height="16.7" fill="#5f9c75" stroke="#2a573b" stroke-width="0.7"/>
<rect x="311.12" y="341.0" width="2.2" height="10.5" fill="#5f9c75" stroke="#2a573b" stroke-width="0.7"/>
<rect x="316.13" y="312.6" width="2.2" height="29.8" fill="#5f9c75" stroke="#2a573b" stroke-width="0.7"/>
<rect x="321.15" y="312.6" width="2.2" height="18.9" fill="#c9523f" stroke="#6a271d" stroke-width="0.7"/>
<rect x="326.16" y="320.0" width="2.2" height="5.7" fill="#5f9c75" stroke="#2a573b" stroke-width="0.7"/>
<rect x="331.18" y="320.3" width="2.2" height="4.3" fill="#c9523f" stroke="#6a271d" stroke-width="0.7"/>
<rect x="336.19" y="322.6" width="2.2" height="6.9" fill="#c9523f" stroke="#6a271d" stroke-width="0.7"/>
<rect x="341.21" y="329.5" width="2.2" height="10.0" fill="#c9523f" stroke="#6a271d" stroke-width="0.7"/>
<rect x="346.22" y="339.9" width="2.2" height="9.6" fill="#c9523f" stroke="#6a271d" stroke-width="0.7"/>
<rect x="351.24" y="351.0" width="2.2" height="11.6" fill="#c9523f" stroke="#6a271d" stroke-width="0.7"/>
<rect x="356.25" y="362.2" width="2.2" height="11.5" fill="#c9523f" stroke="#6a271d" stroke-width="0.7"/>
<rect x="361.27" y="371.2" width="2.2" height="19.8" fill="#c9523f" stroke="#6a271d" stroke-width="0.7"/>
<rect x="366.28" y="391.0" width="2.2" height="6.2" fill="#c9523f" stroke="#6a271d" stroke-width="0.7"/>
<rect x="371.30" y="396.2" width="2.2" height="23.6" fill="#c9523f" stroke="#6a271d" stroke-width="0.7"/>
<rect x="376.31" y="388.5" width="2.2" height="29.4" fill="#5f9c75" stroke="#2a573b" stroke-width="0.7"/>
<rect x="381.33" y="352.6" width="2.2" height="35.3" fill="#5f9c75" stroke="#2a573b" stroke-width="0.7"/>
<rect x="386.34" y="341.8" width="2.2" height="11.2" fill="#5f9c75" stroke="#2a573b" stroke-width="0.7"/>
<rect x="391.35" y="278.7" width="2.2" height="63.7" fill="#5f9c75" stroke="#2a573b" stroke-width="0.7"/>
<rect x="396.37" y="248.7" width="2.2" height="30.7" fill="#5f9c75" stroke="#2a573b" stroke-width="0.7"/>
<rect x="401.38" y="231.0" width="2.2" height="19.3" fill="#5f9c75" stroke="#2a573b" stroke-width="0.7"/>
<rect x="406.40" y="188.1" width="2.2" height="42.9" fill="#5f9c75" stroke="#2a573b" stroke-width="0.7"/>
<rect x="411.41" y="120.0" width="2.2" height="70.4" fill="#5f9c75" stroke="#2a573b" stroke-width="0.7"/>
<rect x="416.43" y="93.4" width="2.2" height="27.4" fill="#5f9c75" stroke="#2a573b" stroke-width="0.7"/>
<rect x="421.44" y="96.8" width="2.2" height="2.7" fill="#c9523f" stroke="#6a271d" stroke-width="0.7"/>
<rect x="426.46" y="44.2" width="2.2" height="53.3" fill="#5f9c75" stroke="#2a573b" stroke-width="0.7"/>
<rect x="431.47" y="46.6" width="2.2" height="63.2" fill="#c9523f" stroke="#6a271d" stroke-width="0.7"/>
<rect x="436.49" y="104.0" width="2.2" height="2.5" fill="#c9523f" stroke="#6a271d" stroke-width="0.7"/>
<rect x="441.50" y="106.0" width="2.2" height="72.3" fill="#c9523f" stroke="#6a271d" stroke-width="0.7"/>
<rect x="446.52" y="178.5" width="2.2" height="17.2" fill="#c9523f" stroke="#6a271d" stroke-width="0.7"/>
<rect x="451.53" y="195.7" width="2.2" height="13.8" fill="#c9523f" stroke="#6a271d" stroke-width="0.7"/>
<rect x="456.55" y="210.7" width="2.2" height="12.0" fill="#c9523f" stroke="#6a271d" stroke-width="0.7"/>
<rect x="461.56" y="164.3" width="2.2" height="58.4" fill="#5f9c75" stroke="#2a573b" stroke-width="0.7"/>
<rect x="466.58" y="165.7" width="2.2" height="12.0" fill="#c9523f" stroke="#6a271d" stroke-width="0.7"/>
<rect x="471.59" y="144.4" width="2.2" height="35.3" fill="#5f9c75" stroke="#2a573b" stroke-width="0.7"/>
<rect x="476.61" y="143.8" width="2.2" height="28.7" fill="#c9523f" stroke="#6a271d" stroke-width="0.7"/>
<rect x="481.62" y="171.9" width="2.2" height="41.0" fill="#c9523f" stroke="#6a271d" stroke-width="0.7"/>
<rect x="486.64" y="202.2" width="2.2" height="10.7" fill="#5f9c75" stroke="#2a573b" stroke-width="0.7"/>
<rect x="491.65" y="205.3" width="2.2" height="38.9" fill="#c9523f" stroke="#6a271d" stroke-width="0.7"/>
<rect x="496.67" y="242.2" width="2.2" height="17.8" fill="#c9523f" stroke="#6a271d" stroke-width="0.7"/>
<rect x="501.68" y="247.7" width="2.2" height="9.8" fill="#5f9c75" stroke="#2a573b" stroke-width="0.7"/>
<rect x="506.70" y="246.9" width="2.2" height="9.6" fill="#c9523f" stroke="#6a271d" stroke-width="0.7"/>
<rect x="511.71" y="212.9" width="2.2" height="45.7" fill="#5f9c75" stroke="#2a573b" stroke-width="0.7"/>
<rect x="516.72" y="199.1" width="2.2" height="15.4" fill="#5f9c75" stroke="#2a573b" stroke-width="0.7"/>
<rect x="521.74" y="199.1" width="2.2" height="19.5" fill="#c9523f" stroke="#6a271d" stroke-width="0.7"/>
<rect x="526.75" y="219.6" width="2.2" height="3.1" fill="#c9523f" stroke="#6a271d" stroke-width="0.7"/>
<rect x="531.77" y="177.2" width="2.2" height="45.5" fill="#5f9c75" stroke="#2a573b" stroke-width="0.7"/>
<rect x="536.78" y="178.0" width="2.2" height="19.7" fill="#c9523f" stroke="#6a271d" stroke-width="0.7"/>
<rect x="541.80" y="196.1" width="2.2" height="15.9" fill="#c9523f" stroke="#6a271d" stroke-width="0.7"/>
<rect x="546.81" y="210.4" width="2.2" height="1.2" fill="#c9523f" stroke="#6a271d" stroke-width="0.7"/>
<rect x="551.83" y="206.7" width="2.2" height="28.8" fill="#c9523f" stroke="#6a271d" stroke-width="0.7"/>
<rect x="556.84" y="234.0" width="2.2" height="8.8" fill="#c9523f" stroke="#6a271d" stroke-width="0.7"/>
<rect x="561.86" y="242.8" width="2.2" height="22.9" fill="#c9523f" stroke="#6a271d" stroke-width="0.7"/>
<rect x="566.87" y="265.4" width="2.2" height="7.5" fill="#c9523f" stroke="#6a271d" stroke-width="0.7"/>
<rect x="571.89" y="247.8" width="2.2" height="24.7" fill="#5f9c75" stroke="#2a573b" stroke-width="0.7"/>
<rect x="576.90" y="240.3" width="2.2" height="8.4" fill="#5f9c75" stroke="#2a573b" stroke-width="0.7"/>
<rect x="581.92" y="240.3" width="2.2" height="5.7" fill="#c9523f" stroke="#6a271d" stroke-width="0.7"/>
<rect x="586.93" y="220.0" width="2.2" height="28.7" fill="#5f9c75" stroke="#2a573b" stroke-width="0.7"/>
<rect x="591.95" y="220.9" width="2.2" height="33.7" fill="#c9523f" stroke="#6a271d" stroke-width="0.7"/>
<rect x="596.96" y="255.9" width="2.2" height="4.8" fill="#c9523f" stroke="#6a271d" stroke-width="0.7"/>
<rect x="601.98" y="240.3" width="2.2" height="20.4" fill="#5f9c75" stroke="#2a573b" stroke-width="0.7"/>
<rect x="606.99" y="236.2" width="2.2" height="4.8" fill="#5f9c75" stroke="#2a573b" stroke-width="0.7"/>
<rect x="612.01" y="227.7" width="2.2" height="9.0" fill="#5f9c75" stroke="#2a573b" stroke-width="0.7"/>
<rect x="617.02" y="214.1" width="2.2" height="13.6" fill="#5f9c75" stroke="#2a573b" stroke-width="0.7"/>
<rect x="622.04" y="193.7" width="2.2" height="20.8" fill="#5f9c75" stroke="#2a573b" stroke-width="0.7"/>
<rect x="627.05" y="194.0" width="2.2" height="43.3" fill="#c9523f" stroke="#6a271d" stroke-width="0.7"/>
<rect x="632.07" y="237.4" width="2.2" height="7.6" fill="#c9523f" stroke="#6a271d" stroke-width="0.7"/>
<rect x="637.08" y="242.8" width="2.2" height="18.2" fill="#c9523f" stroke="#6a271d" stroke-width="0.7"/>
<rect x="642.09" y="242.3" width="2.2" height="19.4" fill="#5f9c75" stroke="#2a573b" stroke-width="0.7"/>
<rect x="647.11" y="204.8" width="2.2" height="37.5" fill="#5f9c75" stroke="#2a573b" stroke-width="0.7"/>
<rect x="652.12" y="203.9" width="2.2" height="6.6" fill="#c9523f" stroke="#6a271d" stroke-width="0.7"/>
<rect x="657.14" y="210.9" width="2.2" height="32.8" fill="#c9523f" stroke="#6a271d" stroke-width="0.7"/>
<rect x="662.15" y="225.9" width="2.2" height="19.4" fill="#5f9c75" stroke="#2a573b" stroke-width="0.7"/>
<rect x="667.17" y="225.9" width="2.2" height="13.7" fill="#c9523f" stroke="#6a271d" stroke-width="0.7"/>
<rect x="672.18" y="239.2" width="2.2" height="27.6" fill="#c9523f" stroke="#6a271d" stroke-width="0.7"/>
<rect x="677.20" y="264.2" width="2.2" height="20.5" fill="#c9523f" stroke="#6a271d" stroke-width="0.7"/>
<rect x="682.21" y="285.9" width="2.2" height="28.1" fill="#c9523f" stroke="#6a271d" stroke-width="0.7"/>
<rect x="687.23" y="313.0" width="2.2" height="18.0" fill="#c9523f" stroke="#6a271d" stroke-width="0.7"/>
<rect x="692.24" y="327.7" width="2.2" height="5.3" fill="#5f9c75" stroke="#2a573b" stroke-width="0.7"/>
<rect x="697.26" y="326.9" width="2.2" height="20.7" fill="#c9523f" stroke="#6a271d" stroke-width="0.7"/>
<rect x="702.27" y="350.7" width="2.2" height="24.9" fill="#c9523f" stroke="#6a271d" stroke-width="0.7"/>
<rect x="707.29" y="366.0" width="2.2" height="9.6" fill="#5f9c75" stroke="#2a573b" stroke-width="0.7"/>
<rect x="712.30" y="367.6" width="2.2" height="27.3" fill="#c9523f" stroke="#6a271d" stroke-width="0.7"/>
<rect x="717.32" y="354.1" width="2.2" height="43.4" fill="#5f9c75" stroke="#2a573b" stroke-width="0.7"/>
<rect x="722.33" y="351.4" width="2.2" height="1.2" fill="#5f9c75" stroke="#2a573b" stroke-width="0.7"/>
<rect x="727.35" y="353.0" width="2.2" height="8.1" fill="#c9523f" stroke="#6a271d" stroke-width="0.7"/>
<rect x="732.36" y="343.3" width="2.2" height="17.4" fill="#5f9c75" stroke="#2a573b" stroke-width="0.7"/>
<rect x="737.38" y="343.3" width="2.2" height="6.2" fill="#c9523f" stroke="#6a271d" stroke-width="0.7"/>
<rect x="742.39" y="345.8" width="2.2" height="3.7" fill="#5f9c75" stroke="#2a573b" stroke-width="0.7"/>
<rect x="747.41" y="328.9" width="2.2" height="17.5" fill="#5f9c75" stroke="#2a573b" stroke-width="0.7"/>
<rect x="752.42" y="330.0" width="2.2" height="24.1" fill="#c9523f" stroke="#6a271d" stroke-width="0.7"/>
<rect x="757.44" y="353.0" width="2.2" height="12.7" fill="#c9523f" stroke="#6a271d" stroke-width="0.7"/>
<rect x="762.45" y="352.5" width="2.2" height="13.2" fill="#5f9c75" stroke="#2a573b" stroke-width="0.7"/>
<rect x="767.46" y="353.0" width="2.2" height="2.6" fill="#c9523f" stroke="#6a271d" stroke-width="0.7"/>
<rect x="772.48" y="348.2" width="2.2" height="9.4" fill="#5f9c75" stroke="#2a573b" stroke-width="0.7"/>
<rect x="777.49" y="347.6" width="2.2" height="1.2" fill="#5f9c75" stroke="#2a573b" stroke-width="0.7"/>
<rect x="782.51" y="344.2" width="2.2" height="1.5" fill="#5f9c75" stroke="#2a573b" stroke-width="0.7"/>
<rect x="787.52" y="347.6" width="2.2" height="1.6" fill="#c9523f" stroke="#6a271d" stroke-width="0.7"/>
<rect x="792.54" y="340.0" width="2.2" height="9.6" fill="#5f9c75" stroke="#2a573b" stroke-width="0.7"/>
<rect x="797.55" y="341.0" width="2.2" height="4.6" fill="#c9523f" stroke="#6a271d" stroke-width="0.7"/>
<rect x="802.57" y="341.0" width="2.2" height="12.8" fill="#c9523f" stroke="#6a271d" stroke-width="0.7"/>
<rect x="807.58" y="345.0" width="2.2" height="11.9" fill="#5f9c75" stroke="#2a573b" stroke-width="0.7"/>
<rect x="812.60" y="342.6" width="2.2" height="15.3" fill="#c9523f" stroke="#6a271d" stroke-width="0.7"/>
<rect x="817.61" y="354.5" width="2.2" height="1.9" fill="#5f9c75" stroke="#2a573b" stroke-width="0.7"/>
<rect x="822.63" y="354.2" width="2.2" height="4.2" fill="#c9523f" stroke="#6a271d" stroke-width="0.7"/>
<rect x="827.64" y="357.9" width="2.2" height="5.9" fill="#c9523f" stroke="#6a271d" stroke-width="0.7"/>
<rect x="832.66" y="356.9" width="2.2" height="6.6" fill="#5f9c75" stroke="#2a573b" stroke-width="0.7"/>
<rect x="837.67" y="354.2" width="2.2" height="16.5" fill="#c9523f" stroke="#6a271d" stroke-width="0.7"/>
<rect x="842.69" y="355.8" width="2.2" height="14.9" fill="#5f9c75" stroke="#2a573b" stroke-width="0.7"/>
<rect x="847.70" y="353.8" width="2.2" height="9.2" fill="#c9523f" stroke="#6a271d" stroke-width="0.7"/>
<rect x="852.72" y="363.8" width="2.2" height="4.3" fill="#c9523f" stroke="#6a271d" stroke-width="0.7"/>
<rect x="857.73" y="367.6" width="2.2" height="30.7" fill="#c9523f" stroke="#6a271d" stroke-width="0.7"/>
<rect x="862.75" y="389.4" width="2.2" height="5.6" fill="#5f9c75" stroke="#2a573b" stroke-width="0.7"/>
<rect x="867.76" y="379.2" width="2.2" height="7.7" fill="#5f9c75" stroke="#2a573b" stroke-width="0.7"/>
<rect x="872.78" y="379.2" width="2.2" height="19.2" fill="#c9523f" stroke="#6a271d" stroke-width="0.7"/>
<rect x="877.79" y="399.2" width="2.2" height="17.3" fill="#c9523f" stroke="#6a271d" stroke-width="0.7"/>
<rect x="882.81" y="413.4" width="2.2" height="1.2" fill="#c9523f" stroke="#6a271d" stroke-width="0.7"/>
<rect x="887.82" y="416.8" width="2.2" height="19.2" fill="#c9523f" stroke="#6a271d" stroke-width="0.7"/>
<rect x="892.83" y="435.6" width="2.2" height="8.6" fill="#c9523f" stroke="#6a271d" stroke-width="0.7"/>
<rect x="897.85" y="434.5" width="2.2" height="11.8" fill="#5f9c75" stroke="#2a573b" stroke-width="0.7"/>
<rect x="902.86" y="424.2" width="2.2" height="12.6" fill="#5f9c75" stroke="#2a573b" stroke-width="0.7"/>
<rect x="907.88" y="424.2" width="2.2" height="17.5" fill="#c9523f" stroke="#6a271d" stroke-width="0.7"/>
<rect x="912.89" y="438.6" width="2.2" height="22.8" fill="#c9523f" stroke="#6a271d" stroke-width="0.7"/>
<rect x="917.91" y="460.6" width="2.2" height="2.0" fill="#c9523f" stroke="#6a271d" stroke-width="0.7"/>
<rect x="922.92" y="443.0" width="2.2" height="18.7" fill="#5f9c75" stroke="#2a573b" stroke-width="0.7"/>
<rect x="927.94" y="442.3" width="2.2" height="1.2" fill="#5f9c75" stroke="#2a573b" stroke-width="0.7"/>
<rect x="932.95" y="442.6" width="2.2" height="1.2" fill="#5f9c75" stroke="#2a573b" stroke-width="0.7"/>
<rect x="937.97" y="443.0" width="2.2" height="6.5" fill="#c9523f" stroke="#6a271d" stroke-width="0.7"/>
<rect x="942.98" y="447.6" width="2.2" height="1.4" fill="#c9523f" stroke="#6a271d" stroke-width="0.7"/>
<rect x="948.00" y="445.2" width="2.2" height="6.4" fill="#c9523f" stroke="#6a271d" stroke-width="0.7"/>
<rect x="953.01" y="453.0" width="2.2" height="15.1" fill="#c9523f" stroke="#6a271d" stroke-width="0.7"/>
<rect x="958.03" y="467.6" width="2.2" height="13.1" fill="#c9523f" stroke="#6a271d" stroke-width="0.7"/>
<rect x="963.04" y="457.9" width="2.2" height="23.1" fill="#5f9c75" stroke="#2a573b" stroke-width="0.7"/>
<rect x="968.06" y="458.4" width="2.2" height="12.7" fill="#c9523f" stroke="#6a271d" stroke-width="0.7"/>
<rect x="973.07" y="447.2" width="2.2" height="23.0" fill="#5f9c75" stroke="#2a573b" stroke-width="0.7"/>
<rect x="978.09" y="451.2" width="2.2" height="3.7" fill="#c9523f" stroke="#6a271d" stroke-width="0.7"/>
<rect x="983.10" y="457.3" width="2.2" height="7.2" fill="#c9523f" stroke="#6a271d" stroke-width="0.7"/>
<rect x="988.12" y="463.5" width="2.2" height="11.3" fill="#c9523f" stroke="#6a271d" stroke-width="0.7"/>
<rect x="993.13" y="472.7" width="2.2" height="6.1" fill="#5f9c75" stroke="#2a573b" stroke-width="0.7"/>
<rect x="998.15" y="473.3" width="2.2" height="38.8" fill="#c9523f" stroke="#6a271d" stroke-width="0.7"/>
<rect x="1003.16" y="506.5" width="2.2" height="6.1" fill="#5f9c75" stroke="#2a573b" stroke-width="0.7"/>
<rect x="1008.18" y="496.3" width="2.2" height="10.2" fill="#5f9c75" stroke="#2a573b" stroke-width="0.7"/>
<rect x="1013.19" y="491.1" width="2.2" height="4.6" fill="#5f9c75" stroke="#2a573b" stroke-width="0.7"/>
<rect x="1018.20" y="483.2" width="2.2" height="6.3" fill="#5f9c75" stroke="#2a573b" stroke-width="0.7"/>
<rect x="1023.22" y="480.3" width="2.2" height="3.4" fill="#5f9c75" stroke="#2a573b" stroke-width="0.7"/>
<rect x="1028.23" y="476.0" width="2.2" height="5.6" fill="#5f9c75" stroke="#2a573b" stroke-width="0.7"/>
<rect x="1033.25" y="459.2" width="2.2" height="15.3" fill="#5f9c75" stroke="#2a573b" stroke-width="0.7"/>
<rect x="1038.26" y="458.1" width="2.2" height="14.4" fill="#c9523f" stroke="#6a271d" stroke-width="0.7"/>
<rect x="1043.28" y="458.1" width="2.2" height="9.8" fill="#5f9c75" stroke="#2a573b" stroke-width="0.7"/>
<rect x="1048.29" y="458.1" width="2.2" height="5.7" fill="#c9523f" stroke="#6a271d" stroke-width="0.7"/>
<rect x="1053.31" y="463.3" width="2.2" height="21.5" fill="#c9523f" stroke="#6a271d" stroke-width="0.7"/>
<rect x="1058.32" y="484.2" width="2.2" height="15.4" fill="#c9523f" stroke="#6a271d" stroke-width="0.7"/>
<rect x="1063.34" y="498.0" width="2.2" height="13.9" fill="#c9523f" stroke="#6a271d" stroke-width="0.7"/>
<rect x="1068.35" y="511.4" width="2.2" height="3.1" fill="#c9523f" stroke="#6a271d" stroke-width="0.7"/>
<rect x="1073.37" y="504.5" width="2.2" height="12.0" fill="#5f9c75" stroke="#2a573b" stroke-width="0.7"/>
<rect x="1078.38" y="496.0" width="2.2" height="8.8" fill="#5f9c75" stroke="#2a573b" stroke-width="0.7"/>
<rect x="1083.40" y="478.0" width="2.2" height="15.1" fill="#5f9c75" stroke="#2a573b" stroke-width="0.7"/>
<rect x="1088.41" y="445.0" width="2.2" height="33.8" fill="#5f9c75" stroke="#2a573b" stroke-width="0.7"/>
<rect x="1093.43" y="427.6" width="2.2" height="16.0" fill="#5f9c75" stroke="#2a573b" stroke-width="0.7"/>
<rect x="1098.44" y="421.9" width="2.2" height="6.6" fill="#5f9c75" stroke="#2a573b" stroke-width="0.7"/>
<rect x="1103.46" y="419.7" width="2.2" height="25.0" fill="#c9523f" stroke="#6a271d" stroke-width="0.7"/>
<rect x="1108.47" y="446.5" width="2.2" height="16.0" fill="#c9523f" stroke="#6a271d" stroke-width="0.7"/>
<rect x="1113.49" y="462.7" width="2.2" height="18.8" fill="#c9523f" stroke="#6a271d" stroke-width="0.7"/>
<rect x="1118.50" y="481.0" width="2.2" height="9.0" fill="#c9523f" stroke="#6a271d" stroke-width="0.7"/>
<rect x="1123.52" y="486.4" width="2.2" height="5.0" fill="#5f9c75" stroke="#2a573b" stroke-width="0.7"/>
<rect x="1128.53" y="487.8" width="2.2" height="12.2" fill="#c9523f" stroke="#6a271d" stroke-width="0.7"/>
<rect x="1133.55" y="491.0" width="2.2" height="9.0" fill="#5f9c75" stroke="#2a573b" stroke-width="0.7"/>
<rect x="1138.56" y="491.0" width="2.2" height="15.6" fill="#c9523f" stroke="#6a271d" stroke-width="0.7"/>
<rect x="1143.57" y="507.2" width="2.2" height="2.5" fill="#c9523f" stroke="#6a271d" stroke-width="0.7"/>
<rect x="1148.59" y="509.0" width="2.2" height="27.2" fill="#c9523f" stroke="#6a271d" stroke-width="0.7"/>
<rect x="1153.60" y="516.5" width="2.2" height="3.2" fill="#5f9c75" stroke="#2a573b" stroke-width="0.7"/>
<rect x="1158.62" y="505.4" width="2.2" height="14.3" fill="#5f9c75" stroke="#2a573b" stroke-width="0.7"/>
<rect x="1163.63" y="505.4" width="2.2" height="10.6" fill="#c9523f" stroke="#6a271d" stroke-width="0.7"/>
<rect x="1168.65" y="501.6" width="2.2" height="14.6" fill="#5f9c75" stroke="#2a573b" stroke-width="0.7"/>
<rect x="1173.66" y="502.8" width="2.2" height="6.6" fill="#c9523f" stroke="#6a271d" stroke-width="0.7"/>
<rect x="1178.68" y="512.6" width="2.2" height="1.2" fill="#c9523f" stroke="#6a271d" stroke-width="0.7"/>
<rect x="1183.69" y="513.1" width="2.2" height="6.6" fill="#c9523f" stroke="#6a271d" stroke-width="0.7"/>
<rect x="1188.71" y="519.7" width="2.2" height="12.1" fill="#c9523f" stroke="#6a271d" stroke-width="0.7"/>
<rect x="1193.72" y="516.2" width="2.2" height="15.2" fill="#5f9c75" stroke="#2a573b" stroke-width="0.7"/>
<rect x="1198.74" y="514.7" width="2.2" height="1.2" fill="#5f9c75" stroke="#2a573b" stroke-width="0.7"/>
<rect x="1203.75" y="497.7" width="2.2" height="17.2" fill="#5f9c75" stroke="#2a573b" stroke-width="0.7"/>
<rect x="1208.77" y="497.7" width="2.2" height="3.6" fill="#c9523f" stroke="#6a271d" stroke-width="0.7"/>
<rect x="1213.78" y="480.3" width="2.2" height="19.2" fill="#5f9c75" stroke="#2a573b" stroke-width="0.7"/>
<rect x="1218.80" y="467.8" width="2.2" height="11.6" fill="#5f9c75" stroke="#2a573b" stroke-width="0.7"/>
<rect x="1223.81" y="468.3" width="2.2" height="5.4" fill="#c9523f" stroke="#6a271d" stroke-width="0.7"/>
<rect x="1228.83" y="476.2" width="2.2" height="4.7" fill="#c9523f" stroke="#6a271d" stroke-width="0.7"/>
<rect x="1233.84" y="479.4" width="2.2" height="25.1" fill="#c9523f" stroke="#6a271d" stroke-width="0.7"/>
<rect x="1238.86" y="503.1" width="2.2" height="11.3" fill="#c9523f" stroke="#6a271d" stroke-width="0.7"/>
<rect x="1243.87" y="513.8" width="2.2" height="38.2" fill="#c9523f" stroke="#6a271d" stroke-width="0.7"/>
<rect x="1248.89" y="552.3" width="2.2" height="5.8" fill="#c9523f" stroke="#6a271d" stroke-width="0.7"/>
<rect x="1253.90" y="556.8" width="2.2" height="6.9" fill="#c9523f" stroke="#6a271d" stroke-width="0.7"/>
<rect x="1258.92" y="560.6" width="2.2" height="1.2" fill="#5f9c75" stroke="#2a573b" stroke-width="0.7"/>
<rect x="1263.93" y="553.2" width="2.2" height="8.0" fill="#5f9c75" stroke="#2a573b" stroke-width="0.7"/>
<rect x="1268.94" y="552.3" width="2.2" height="2.1" fill="#c9523f" stroke="#6a271d" stroke-width="0.7"/>
<rect x="1273.96" y="553.2" width="2.2" height="8.4" fill="#c9523f" stroke="#6a271d" stroke-width="0.7"/>
<rect x="1278.97" y="560.3" width="2.2" height="11.7" fill="#c9523f" stroke="#6a271d" stroke-width="0.7"/>
<rect x="1283.99" y="571.1" width="2.2" height="13.4" fill="#c9523f" stroke="#6a271d" stroke-width="0.7"/>
<rect x="1289.00" y="584.2" width="2.2" height="6.6" fill="#c9523f" stroke="#6a271d" stroke-width="0.7"/>
<rect x="1294.02" y="574.7" width="2.2" height="13.0" fill="#5f9c75" stroke="#2a573b" stroke-width="0.7"/>
<rect x="1299.03" y="573.8" width="2.2" height="8.9" fill="#c9523f" stroke="#6a271d" stroke-width="0.7"/>
<rect x="1304.05" y="572.3" width="2.2" height="12.2" fill="#5f9c75" stroke="#2a573b" stroke-width="0.7"/>
<rect x="1309.06" y="572.0" width="2.2" height="17.9" fill="#c9523f" stroke="#6a271d" stroke-width="0.7"/>
<rect x="1314.08" y="589.9" width="2.2" height="8.1" fill="#c9523f" stroke="#6a271d" stroke-width="0.7"/>
<rect x="1319.09" y="594.9" width="2.2" height="8.1" fill="#c9523f" stroke="#6a271d" stroke-width="0.7"/>
<rect x="1324.11" y="602.2" width="2.2" height="5.4" fill="#c9523f" stroke="#6a271d" stroke-width="0.7"/>
<rect x="1329.12" y="588.2" width="2.2" height="15.3" fill="#5f9c75" stroke="#2a573b" stroke-width="0.7"/>
<rect x="1334.14" y="590.2" width="2.2" height="20.5" fill="#c9523f" stroke="#6a271d" stroke-width="0.7"/>
<rect x="1339.15" y="606.7" width="2.2" height="1.8" fill="#c9523f" stroke="#6a271d" stroke-width="0.7"/>
<rect x="1344.17" y="600.5" width="2.2" height="26.0" fill="#c9523f" stroke="#6a271d" stroke-width="0.7"/>
<rect x="1349.18" y="619.8" width="2.2" height="6.7" fill="#5f9c75" stroke="#2a573b" stroke-width="0.7"/>
<rect x="1354.20" y="613.0" width="2.2" height="6.3" fill="#5f9c75" stroke="#2a573b" stroke-width="0.7"/>
<rect x="1359.21" y="607.3" width="2.2" height="5.7" fill="#5f9c75" stroke="#2a573b" stroke-width="0.7"/>
<rect x="1364.23" y="608.5" width="2.2" height="4.5" fill="#c9523f" stroke="#6a271d" stroke-width="0.7"/>
<rect x="1369.24" y="610.9" width="2.2" height="8.4" fill="#c9523f" stroke="#6a271d" stroke-width="0.7"/>
<rect x="1374.26" y="612.1" width="2.2" height="7.2" fill="#5f9c75" stroke="#2a573b" stroke-width="0.7"/>
<rect x="1379.27" y="613.0" width="2.2" height="10.4" fill="#c9523f" stroke="#6a271d" stroke-width="0.7"/>
<rect x="1384.29" y="622.9" width="2.2" height="12.0" fill="#c9523f" stroke="#6a271d" stroke-width="0.7"/>
<rect x="1389.30" y="632.4" width="2.2" height="8.9" fill="#c9523f" stroke="#6a271d" stroke-width="0.7"/>
<rect x="1394.31" y="648.2" width="2.2" height="18.4" fill="#c9523f" stroke="#6a271d" stroke-width="0.7"/>
<rect x="1399.33" y="659.4" width="2.2" height="7.1" fill="#5f9c75" stroke="#2a573b" stroke-width="0.7"/>
<rect x="1404.34" y="635.2" width="2.2" height="20.4" fill="#5f9c75" stroke="#2a573b" stroke-width="0.7"/>
<rect x="1409.36" y="621.4" width="2.2" height="14.5" fill="#5f9c75" stroke="#2a573b" stroke-width="0.7"/>
<rect x="1414.37" y="616.8" width="2.2" height="23.2" fill="#c9523f" stroke="#6a271d" stroke-width="0.7"/>
<rect x="1419.39" y="641.3" width="2.2" height="11.9" fill="#c9523f" stroke="#6a271d" stroke-width="0.7"/>
<rect x="1424.40" y="651.8" width="2.2" height="1.2" fill="#c9523f" stroke="#6a271d" stroke-width="0.7"/>
<rect x="1429.42" y="649.2" width="2.2" height="3.2" fill="#5f9c75" stroke="#2a573b" stroke-width="0.7"/>
<rect x="1434.43" y="647.1" width="2.2" height="12.4" fill="#c9523f" stroke="#6a271d" stroke-width="0.7"/>
<rect x="1439.45" y="658.2" width="2.2" height="18.6" fill="#c9523f" stroke="#6a271d" stroke-width="0.7"/>
<rect x="1444.46" y="680.0" width="2.2" height="6.3" fill="#c9523f" stroke="#6a271d" stroke-width="0.7"/>
<line x1="0" y1="343.9" x2="1499" y2="343.9" stroke="#4eaeb0" stroke-width="1.6"/>
<line x1="0" y1="398.3" x2="1499" y2="398.3" stroke="#4eaeb0" stroke-width="1.6"/>
<line x1="0" y1="565.1" x2="1499" y2="565.1" stroke="#4eaeb0" stroke-width="1.6"/>
<line x1="0" y1="618.3" x2="1499" y2="618.3" stroke="#4eaeb0" stroke-width="1.6"/>
<line x1="0" y1="636.5" x2="1499" y2="636.5" stroke="#4eaeb0" stroke-width="1.6"/>
<line x1="0" y1="706.9" x2="1499" y2="706.9" stroke="#4eaeb0" stroke-width="1.6"/>
<line x1="0" y1="742.9" x2="1499" y2="742.9" stroke="#4eaeb0" stroke-width="1.6"/>
<line x1="0" y1="597.0" x2="1499" y2="485.5" stroke="#4eaeb0" stroke-width="1.5"/>
<line x1="608.2" y1="180.5" x2="1499" y2="609.3" stroke="#4eaeb0" stroke-width="1.5"/>
<line x1="682.5" y1="382.8" x2="1499" y2="715.3" stroke="#4eaeb0" stroke-width="1.5"/>
<line x1="1210" y1="455.5" x2="1499" y2="678.0" stroke="#4eaeb0" stroke-width="1.5"/>
<line x1="1225" y1="476.5" x2="1305" y2="516" stroke="#a0a4a4" stroke-width="0.8"/>
<line x1="1225" y1="481.5" x2="1305" y2="518" stroke="#a0a4a4" stroke-width="0.8"/>
<line x1="518" y1="0" x2="518" y2="765" stroke="#a9abb2" stroke-width="1" stroke-dasharray="3.4 3.4" opacity="0.8"/>
<line x1="0" y1="48.5" x2="1499" y2="48.5" stroke="#a9abb2" stroke-width="1" stroke-dasharray="3.4 3.4" opacity="0.8"/>
<line x1="0" y1="686.3" x2="1499" y2="686.3" stroke="#d8b0aa" stroke-width="1" stroke-dasharray="1 2"/>
<rect x="1499" y="0" width="37" height="781" fill="#fff"/>
<rect x="0" y="765" width="1536" height="16" fill="#fff"/>
<line x1="1499.5" y1="0" x2="1499.5" y2="781" stroke="#6a6d74" stroke-width="1"/>
<line x1="0" y1="765" x2="1499" y2="765" stroke="#a3a3a3" stroke-width="1.3"/>
<line x1="1499" y1="5.2" x2="1502" y2="5.2" stroke="#6a6d74" stroke-width="1"/>
<text x="1505.2" y="8.3" class="pl">1.47000</text>
<line x1="1499" y1="26.9" x2="1502" y2="26.9" stroke="#6a6d74" stroke-width="1"/>
<text x="1505.2" y="30.0" class="pl">1.46500</text>
<line x1="1499" y1="70.6" x2="1502" y2="70.6" stroke="#6a6d74" stroke-width="1"/>
<text x="1505.2" y="73.7" class="pl">1.45500</text>
<line x1="1499" y1="92.6" x2="1502" y2="92.6" stroke="#6a6d74" stroke-width="1"/>
<text x="1505.2" y="95.7" class="pl">1.45000</text>
<line x1="1499" y1="114.6" x2="1502" y2="114.6" stroke="#6a6d74" stroke-width="1"/>
<text x="1505.2" y="117.7" class="pl">1.44500</text>
<line x1="1499" y1="136.7" x2="1502" y2="136.7" stroke="#6a6d74" stroke-width="1"/>
<text x="1505.2" y="139.8" class="pl">1.44000</text>
<line x1="1499" y1="158.9" x2="1502" y2="158.9" stroke="#6a6d74" stroke-width="1"/>
<text x="1505.2" y="162.0" class="pl">1.43500</text>
<line x1="1499" y1="181.2" x2="1502" y2="181.2" stroke="#6a6d74" stroke-width="1"/>
<text x="1505.2" y="184.3" class="pl">1.43000</text>
<line x1="1499" y1="203.5" x2="1502" y2="203.5" stroke="#6a6d74" stroke-width="1"/>
<text x="1505.2" y="206.6" class="pl">1.42500</text>
<line x1="1499" y1="225.9" x2="1502" y2="225.9" stroke="#6a6d74" stroke-width="1"/>
<text x="1505.2" y="229.0" class="pl">1.42000</text>
<line x1="1499" y1="248.4" x2="1502" y2="248.4" stroke="#6a6d74" stroke-width="1"/>
<text x="1505.2" y="251.5" class="pl">1.41500</text>
<line x1="1499" y1="271.0" x2="1502" y2="271.0" stroke="#6a6d74" stroke-width="1"/>
<text x="1505.2" y="274.1" class="pl">1.41000</text>
<line x1="1499" y1="293.6" x2="1502" y2="293.6" stroke="#6a6d74" stroke-width="1"/>
<text x="1505.2" y="296.7" class="pl">1.40500</text>
<line x1="1499" y1="316.4" x2="1502" y2="316.4" stroke="#6a6d74" stroke-width="1"/>
<text x="1505.2" y="319.5" class="pl">1.40000</text>
<line x1="1499" y1="339.2" x2="1502" y2="339.2" stroke="#6a6d74" stroke-width="1"/>
<text x="1505.2" y="342.3" class="pl">1.39500</text>
<line x1="1499" y1="362.1" x2="1502" y2="362.1" stroke="#6a6d74" stroke-width="1"/>
<text x="1505.2" y="365.2" class="pl">1.39000</text>
<line x1="1499" y1="380.5" x2="1502" y2="380.5" stroke="#6a6d74" stroke-width="1"/>
<text x="1505.2" y="383.6" class="pl">1.38600</text>
<line x1="1499" y1="417.4" x2="1502" y2="417.4" stroke="#6a6d74" stroke-width="1"/>
<text x="1505.2" y="420.5" class="pl">1.37800</text>
<line x1="1499" y1="435.9" x2="1502" y2="435.9" stroke="#6a6d74" stroke-width="1"/>
<text x="1505.2" y="439.0" class="pl">1.37400</text>
<line x1="1499" y1="454.5" x2="1502" y2="454.5" stroke="#6a6d74" stroke-width="1"/>
<text x="1505.2" y="457.6" class="pl">1.37000</text>
<line x1="1499" y1="473.2" x2="1502" y2="473.2" stroke="#6a6d74" stroke-width="1"/>
<text x="1505.2" y="476.3" class="pl">1.36600</text>
<line x1="1499" y1="491.9" x2="1502" y2="491.9" stroke="#6a6d74" stroke-width="1"/>
<text x="1505.2" y="495.0" class="pl">1.36200</text>
<line x1="1499" y1="510.6" x2="1502" y2="510.6" stroke="#6a6d74" stroke-width="1"/>
<text x="1505.2" y="513.7" class="pl">1.35800</text>
<line x1="1499" y1="529.5" x2="1502" y2="529.5" stroke="#6a6d74" stroke-width="1"/>
<text x="1505.2" y="532.6" class="pl">1.35400</text>
<line x1="1499" y1="548.3" x2="1502" y2="548.3" stroke="#6a6d74" stroke-width="1"/>
<text x="1505.2" y="551.4" class="pl">1.35000</text>
<line x1="1499" y1="586.2" x2="1502" y2="586.2" stroke="#6a6d74" stroke-width="1"/>
<text x="1505.2" y="589.3" class="pl">1.34200</text>
<line x1="1499" y1="605.3" x2="1502" y2="605.3" stroke="#6a6d74" stroke-width="1"/>
<text x="1505.2" y="608.4" class="pl">1.33800</text>
<line x1="1499" y1="624.4" x2="1502" y2="624.4" stroke="#6a6d74" stroke-width="1"/>
<text x="1505.2" y="627.5" class="pl">1.33400</text>
<line x1="1499" y1="643.5" x2="1502" y2="643.5" stroke="#6a6d74" stroke-width="1"/>
<text x="1505.2" y="646.6" class="pl">1.33000</text>
<line x1="1499" y1="662.7" x2="1502" y2="662.7" stroke="#6a6d74" stroke-width="1"/>
<text x="1505.2" y="665.8" class="pl">1.32600</text>
<line x1="1499" y1="682.0" x2="1502" y2="682.0" stroke="#6a6d74" stroke-width="1"/>
<text x="1505.2" y="685.1" class="pl">1.32200</text>
<line x1="1499" y1="701.3" x2="1502" y2="701.3" stroke="#6a6d74" stroke-width="1"/>
<text x="1505.2" y="704.4" class="pl">1.31800</text>
<line x1="1499" y1="720.7" x2="1502" y2="720.7" stroke="#6a6d74" stroke-width="1"/>
<text x="1505.2" y="723.8" class="pl">1.31400</text>
<line x1="1499" y1="757.7" x2="1502" y2="757.7" stroke="#6a6d74" stroke-width="1"/>
<text x="1505.2" y="760.8" class="pl">1.30640</text>
<rect x="1499" y="338.4" width="34" height="11" fill="#38aeb6"/>
<line x1="1499" y1="343.9" x2="1502" y2="343.9" stroke="#0b4a50" stroke-width="1"/>
<text x="1505.2" y="347.0" class="pl" style="fill:#0b4a50">1.39397</text>
<rect x="1499" y="392.8" width="34" height="11" fill="#38aeb6"/>
<line x1="1499" y1="398.3" x2="1502" y2="398.3" stroke="#0b4a50" stroke-width="1"/>
<text x="1505.2" y="401.4" class="pl" style="fill:#0b4a50">1.38214</text>
<rect x="1499" y="559.4" width="34" height="11" fill="#38aeb6"/>
<line x1="1499" y1="564.9" x2="1502" y2="564.9" stroke="#0b4a50" stroke-width="1"/>
<text x="1505.2" y="568.0" class="pl" style="fill:#0b4a50">1.34650</text>
<rect x="1499" y="612.7" width="34" height="11" fill="#38aeb6"/>
<line x1="1499" y1="618.2" x2="1502" y2="618.2" stroke="#0b4a50" stroke-width="1"/>
<text x="1505.2" y="621.3" class="pl" style="fill:#0b4a50">1.33530</text>
<rect x="1499" y="630.8" width="34" height="11" fill="#38aeb6"/>
<line x1="1499" y1="636.3" x2="1502" y2="636.3" stroke="#0b4a50" stroke-width="1"/>
<text x="1505.2" y="639.4" class="pl" style="fill:#0b4a50">1.33150</text>
<rect x="1499" y="701.3" width="34" height="11" fill="#38aeb6"/>
<line x1="1499" y1="706.8" x2="1502" y2="706.8" stroke="#0b4a50" stroke-width="1"/>
<text x="1505.2" y="709.9" class="pl" style="fill:#0b4a50">1.31688</text>
<rect x="1499" y="737.0" width="34" height="11" fill="#38aeb6"/>
<line x1="1499" y1="742.5" x2="1502" y2="742.5" stroke="#0b4a50" stroke-width="1"/>
<text x="1505.2" y="745.6" class="pl" style="fill:#0b4a50">1.30952</text>
<rect x="1499" y="680.4" width="34" height="11" fill="#d75442"/>
<line x1="1499" y1="685.9" x2="1502" y2="685.9" stroke="#ffffff" stroke-width="1"/>
<text x="1505.2" y="689.0" class="pl" style="fill:#ffffff;font-weight:bold">1.32119</text>
<rect x="1499.6" y="43" width="33.4" height="10.6" fill="#363a45"/>
<line x1="1499.6" y1="48.3" x2="1502" y2="48.3" stroke="#ddd" stroke-width="0.8"/>
<text x="1505.2" y="51.4" class="pl" style="fill:#fff;font-weight:bold">1.46016</text>
<rect x="1488" y="43" width="9.8" height="10.6" fill="#363a45"/>
<path d="M1490 48.3h5.8M1492.9 45.4v5.8" stroke="#f4f4f4" stroke-width="0.8"/>
<rect x="1499" y="760.5" width="34" height="4.5" fill="#38aeb6"/>
<rect x="1507.5" y="4" width="18" height="10.5" fill="#fff" stroke="#d6d6d6" stroke-width="0.8"/>
<text x="1509.5" y="12.3" class="pl" style="font-size:8px">SGD</text>
<rect x="1483.5" y="3.5" width="12.5" height="12" rx="1.5" fill="#e4f0fb"/>
<line x1="26.4" y1="765" x2="26.4" y2="768" stroke="#a3a3a3" stroke-width="1"/>
<text x="26.4" y="776.6" class="tlb" text-anchor="middle">Dec</text>
<line x1="76.5" y1="765" x2="76.5" y2="768" stroke="#a3a3a3" stroke-width="1"/>
<text x="76.5" y="776.6" class="tlb" text-anchor="middle">16</text>
<line x1="136.7" y1="765" x2="136.7" y2="768" stroke="#a3a3a3" stroke-width="1"/>
<text x="136.7" y="776.6" class="tlb" text-anchor="middle">2020</text>
<line x1="201.9" y1="765" x2="201.9" y2="768" stroke="#a3a3a3" stroke-width="1"/>
<text x="201.9" y="776.6" class="tlb" text-anchor="middle">20</text>
<line x1="252.0" y1="765" x2="252.0" y2="768" stroke="#a3a3a3" stroke-width="1"/>
<text x="252.0" y="776.6" class="tlb" text-anchor="middle">Feb</text>
<line x1="302.2" y1="765" x2="302.2" y2="768" stroke="#a3a3a3" stroke-width="1"/>
<text x="302.2" y="776.6" class="tlb" text-anchor="middle">17</text>
<line x1="352.3" y1="765" x2="352.3" y2="768" stroke="#a3a3a3" stroke-width="1"/>
<text x="352.3" y="776.6" class="tlb" text-anchor="middle">Mar</text>
<line x1="402.5" y1="765" x2="402.5" y2="768" stroke="#a3a3a3" stroke-width="1"/>
<text x="402.5" y="776.6" class="tlb" text-anchor="middle">16</text>
<line x1="462.7" y1="765" x2="462.7" y2="768" stroke="#a3a3a3" stroke-width="1"/>
<text x="462.7" y="776.6" class="tlb" text-anchor="middle">Apr</text>
<line x1="573.0" y1="765" x2="573.0" y2="768" stroke="#a3a3a3" stroke-width="1"/>
<text x="573.0" y="776.6" class="tlb" text-anchor="middle">May</text>
<line x1="628.2" y1="765" x2="628.2" y2="768" stroke="#a3a3a3" stroke-width="1"/>
<text x="628.2" y="776.6" class="tlb" text-anchor="middle">18</text>
<line x1="678.3" y1="765" x2="678.3" y2="768" stroke="#a3a3a3" stroke-width="1"/>
<text x="678.3" y="776.6" class="tlb" text-anchor="middle">Jun</text>
<line x1="728.4" y1="765" x2="728.4" y2="768" stroke="#a3a3a3" stroke-width="1"/>
<text x="728.4" y="776.6" class="tlb" text-anchor="middle">15</text>
<line x1="788.6" y1="765" x2="788.6" y2="768" stroke="#a3a3a3" stroke-width="1"/>
<text x="788.6" y="776.6" class="tlb" text-anchor="middle">Jul</text>
<line x1="853.8" y1="765" x2="853.8" y2="768" stroke="#a3a3a3" stroke-width="1"/>
<text x="853.8" y="776.6" class="tlb" text-anchor="middle">20</text>
<line x1="904.0" y1="765" x2="904.0" y2="768" stroke="#a3a3a3" stroke-width="1"/>
<text x="904.0" y="776.6" class="tlb" text-anchor="middle">Aug</text>
<line x1="954.1" y1="765" x2="954.1" y2="768" stroke="#a3a3a3" stroke-width="1"/>
<text x="954.1" y="776.6" class="tlb" text-anchor="middle">17</text>
<line x1="1009.3" y1="765" x2="1009.3" y2="768" stroke="#a3a3a3" stroke-width="1"/>
<text x="1009.3" y="776.6" class="tlb" text-anchor="middle">Sep</text>
<line x1="1059.4" y1="765" x2="1059.4" y2="768" stroke="#a3a3a3" stroke-width="1"/>
<text x="1059.4" y="776.6" class="tlb" text-anchor="middle">15</text>
<line x1="1119.6" y1="765" x2="1119.6" y2="768" stroke="#a3a3a3" stroke-width="1"/>
<text x="1119.6" y="776.6" class="tlb" text-anchor="middle">Oct</text>
<line x1="1179.8" y1="765" x2="1179.8" y2="768" stroke="#a3a3a3" stroke-width="1"/>
<text x="1179.8" y="776.6" class="tlb" text-anchor="middle">19</text>
<line x1="1229.9" y1="765" x2="1229.9" y2="768" stroke="#a3a3a3" stroke-width="1"/>
<text x="1229.9" y="776.6" class="tlb" text-anchor="middle">Nov</text>
<line x1="1280.1" y1="765" x2="1280.1" y2="768" stroke="#a3a3a3" stroke-width="1"/>
<text x="1280.1" y="776.6" class="tlb" text-anchor="middle">16</text>
<line x1="1335.2" y1="765" x2="1335.2" y2="768" stroke="#a3a3a3" stroke-width="1"/>
<text x="1335.2" y="776.6" class="tlb" text-anchor="middle">Dec</text>
<line x1="1385.4" y1="765" x2="1385.4" y2="768" stroke="#a3a3a3" stroke-width="1"/>
<text x="1385.4" y="776.6" class="tlb" text-anchor="middle">15</text>
<line x1="1450.6" y1="765" x2="1450.6" y2="768" stroke="#a3a3a3" stroke-width="1"/>
<text x="1450.6" y="776.6" class="tlb" text-anchor="middle">2021</text>
<rect x="499.5" y="765.5" width="37" height="15" fill="#363a45"/>
<text x="518" y="775.8" class="tlb" text-anchor="middle" textLength="30.5" lengthAdjust="spacingAndGlyphs" style="fill:#fff;font-weight:bold">16 Apr '20</text>
<g transform="translate(1517,773)" fill="none" stroke="#444" stroke-width="1.1"><circle r="3"/><path d="M0-5.2v2M0 3.2v2M-5.2 0h2M3.2 0h2M-3.7-3.7l1.4 1.4M2.3 2.3l1.4 1.4M-3.7 3.7l1.4-1.4M2.3-2.3l1.4-1.4"/></g>
<rect x="0" y="0" width="1536" height="1.2" fill="#87a9c1"/>
<rect x="1532.6" y="0" width="1.6" height="781" fill="#4b93d3"/>
<rect x="1534.2" y="0" width="1.8" height="781" fill="#cfe3f3"/>
<rect x="0" y="779.3" width="1536" height="1.7" fill="#4b93d3"/>
<rect x="483" y="-6" width="236" height="10.5" rx="4" fill="#fff" style="filter:drop-shadow(0 1px 1.5px rgba(0,0,0,.25))"/>

<g>
<circle cx="1443.6" cy="755.5" r="6.6" fill="#fbe9dc" stroke="#f1b57a" stroke-width="1"/>
<path d="M1438.5 752h6v4h-6z" fill="#5a86cf"/>
<path d="M1438.5 757h10M1439 759.5h9" stroke="#e0606e" stroke-width="1.2"/>
<path d="M1449 757.5 h50 v5.5 h-50z" fill="#f2b7bf"/>
<path d="M1449 758.5h50M1449 761h50" stroke="#e56078" stroke-width="1.1"/>
<circle cx="1456.5" cy="756" r="3.2" fill="#6f98d8"/>
<text x="1450" y="754" class="ev">8</text>
<text x="1458" y="754" class="ev">11</text>
<text x="1468.5" y="754" class="ev">10</text>
<text x="1476.5" y="754" class="ev">13</text>
<text x="1485" y="754" class="ev">3</text>
<text x="1490.5" y="754" class="ev">5</text>
<text x="1496" y="754" class="ev">7</text>
</g>

</svg>

<div class="title">U.S. Dollar / Singapore Dollar · 1D · IDC</div>
<div class="rw"><svg width="13" height="13" viewBox="0 0 13 13"><circle cx="6.5" cy="6.5" r="6" fill="#2f8ee5"/><path d="M6.3 4v5L3.2 6.5zM9.6 4v5L6.5 6.5z" fill="#fff"/></svg></div>
<div class="ohlc">O1.42272 H1.43070 L1.42272 C1.42598 +0.00318 (+0.22%)</div>
<div class="bx b1">1.3367<span class="sp">8</span></div><div class="n23">2.3</div><div class="bx b2">1.3370<span class="sp">1</span></div>
<div class="bx b3"><svg width="7" height="5" viewBox="0 0 7 5"><path d="M1 1l2.5 2.5L6 1" fill="none" stroke="#333" stroke-width="1.2"/></svg> 4</div>

</body></html>
